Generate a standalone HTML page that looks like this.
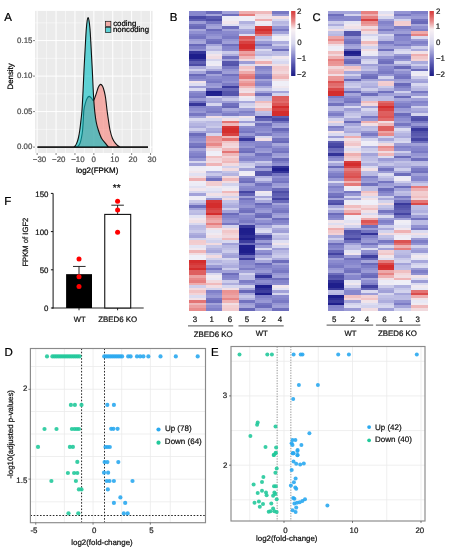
<!DOCTYPE html><html><head><meta charset="utf-8"><style>html,body{margin:0;padding:0;background:#fff;}svg{display:block;}#w{width:451px;height:550px;will-change:transform;}</style></head><body><div id="w"><svg width="451" height="550" viewBox="0 0 451 550" text-rendering="geometricPrecision" font-family='"Liberation Sans", sans-serif'>
<rect width="451" height="550" fill="#fff"/>
<rect x="35" y="10.9" width="117.6" height="142.1" fill="#EBEBEB"/>
<line x1="37.15" y1="10.9" x2="37.15" y2="153" stroke="#fff" stroke-width="1"/>
<line x1="46.60" y1="10.9" x2="46.60" y2="153" stroke="#fff" stroke-width="0.5"/>
<line x1="56.05" y1="10.9" x2="56.05" y2="153" stroke="#fff" stroke-width="1"/>
<line x1="65.50" y1="10.9" x2="65.50" y2="153" stroke="#fff" stroke-width="0.5"/>
<line x1="74.95" y1="10.9" x2="74.95" y2="153" stroke="#fff" stroke-width="1"/>
<line x1="84.40" y1="10.9" x2="84.40" y2="153" stroke="#fff" stroke-width="0.5"/>
<line x1="93.85" y1="10.9" x2="93.85" y2="153" stroke="#fff" stroke-width="1"/>
<line x1="103.30" y1="10.9" x2="103.30" y2="153" stroke="#fff" stroke-width="0.5"/>
<line x1="112.75" y1="10.9" x2="112.75" y2="153" stroke="#fff" stroke-width="1"/>
<line x1="122.20" y1="10.9" x2="122.20" y2="153" stroke="#fff" stroke-width="0.5"/>
<line x1="131.65" y1="10.9" x2="131.65" y2="153" stroke="#fff" stroke-width="1"/>
<line x1="141.10" y1="10.9" x2="141.10" y2="153" stroke="#fff" stroke-width="0.5"/>
<line x1="150.55" y1="10.9" x2="150.55" y2="153" stroke="#fff" stroke-width="1"/>
<line x1="35" y1="147.10" x2="152.6" y2="147.10" stroke="#fff" stroke-width="1"/>
<line x1="35" y1="129.35" x2="152.6" y2="129.35" stroke="#fff" stroke-width="0.5"/>
<line x1="35" y1="111.60" x2="152.6" y2="111.60" stroke="#fff" stroke-width="1"/>
<line x1="35" y1="93.85" x2="152.6" y2="93.85" stroke="#fff" stroke-width="0.5"/>
<line x1="35" y1="76.10" x2="152.6" y2="76.10" stroke="#fff" stroke-width="1"/>
<line x1="35" y1="58.35" x2="152.6" y2="58.35" stroke="#fff" stroke-width="0.5"/>
<line x1="35" y1="40.60" x2="152.6" y2="40.60" stroke="#fff" stroke-width="1"/>
<line x1="35" y1="22.85" x2="152.6" y2="22.85" stroke="#fff" stroke-width="0.5"/>
<path d="M37.50,147.10 C42.92,147.10 63.67,147.13 70.00,147.10 C76.33,147.07 74.20,147.02 75.50,146.90 C76.80,146.78 77.05,147.00 77.80,146.40 C78.55,145.80 79.38,144.78 80.00,143.30 C80.62,141.82 81.07,139.72 81.50,137.50 C81.93,135.28 82.30,132.92 82.60,130.00 C82.90,127.08 83.08,123.33 83.30,120.00 C83.52,116.67 83.57,112.78 83.90,110.00 C84.23,107.22 84.75,105.25 85.30,103.30 C85.85,101.35 86.57,99.45 87.20,98.30 C87.83,97.15 88.42,96.47 89.10,96.40 C89.78,96.33 90.57,97.23 91.30,97.90 C92.03,98.57 92.72,100.98 93.50,100.40 C94.28,99.82 95.20,96.60 96.00,94.40 C96.80,92.20 97.55,88.87 98.30,87.20 C99.05,85.53 99.78,84.55 100.50,84.40 C101.22,84.25 101.97,85.12 102.60,86.30 C103.23,87.48 103.80,89.55 104.30,91.50 C104.80,93.45 105.15,94.92 105.60,98.00 C106.05,101.08 106.53,106.33 107.00,110.00 C107.47,113.67 107.90,116.67 108.40,120.00 C108.90,123.33 109.32,126.92 110.00,130.00 C110.68,133.08 111.58,136.28 112.50,138.50 C113.42,140.72 114.37,141.95 115.50,143.30 C116.63,144.65 117.88,145.97 119.30,146.60 C120.72,147.23 119.22,147.02 124.00,147.10 C128.78,147.18 144.00,147.10 148.00,147.10 Z" fill="#F8766D" fill-opacity="0.55" stroke="#111" stroke-width="1.1"/>
<path d="M37.50,147.10 C42.92,147.10 63.85,147.18 70.00,147.10 C76.15,147.02 73.28,147.23 74.40,146.60 C75.52,145.97 76.02,144.82 76.70,143.30 C77.38,141.78 77.98,139.72 78.50,137.50 C79.02,135.28 79.38,132.92 79.80,130.00 C80.22,127.08 80.63,123.33 81.00,120.00 C81.37,116.67 81.65,115.00 82.00,110.00 C82.35,105.00 82.77,96.67 83.10,90.00 C83.43,83.33 83.72,75.83 84.00,70.00 C84.28,64.17 84.55,59.67 84.80,55.00 C85.05,50.33 85.25,46.33 85.50,42.00 C85.75,37.67 86.02,32.58 86.30,29.00 C86.58,25.42 86.90,22.40 87.20,20.50 C87.50,18.60 87.80,17.60 88.10,17.60 C88.40,17.60 88.68,18.60 89.00,20.50 C89.32,22.40 89.70,25.42 90.00,29.00 C90.30,32.58 90.55,37.67 90.80,42.00 C91.05,46.33 91.25,50.33 91.50,55.00 C91.75,59.67 92.05,65.00 92.30,70.00 C92.55,75.00 92.75,79.93 93.00,85.00 C93.25,90.07 93.50,95.90 93.80,100.40 C94.10,104.90 94.40,108.40 94.80,112.00 C95.20,115.60 95.62,119.00 96.20,122.00 C96.78,125.00 97.42,127.28 98.30,130.00 C99.18,132.72 100.30,136.08 101.50,138.30 C102.70,140.52 104.38,141.95 105.50,143.30 C106.62,144.65 106.95,145.77 108.20,146.40 C109.45,147.03 106.37,146.98 113.00,147.10 C119.63,147.22 142.17,147.10 148.00,147.10 Z" fill="#00BFC4" fill-opacity="0.6" stroke="#111" stroke-width="1.1"/>
<line x1="37.15" y1="153" x2="37.15" y2="155" stroke="#333" stroke-width="0.6"/>
<text x="32.85" y="162.43" font-size="7.90" fill="#4D4D4D" stroke="#4D4D4D" stroke-width="0.22" >−30</text>
<line x1="56.05" y1="153" x2="56.05" y2="155" stroke="#333" stroke-width="0.6"/>
<text x="52.05" y="162.43" font-size="7.90" fill="#4D4D4D" stroke="#4D4D4D" stroke-width="0.22" >−20</text>
<line x1="74.95" y1="153" x2="74.95" y2="155" stroke="#333" stroke-width="0.6"/>
<text x="71.15" y="162.43" font-size="7.90" fill="#4D4D4D" stroke="#4D4D4D" stroke-width="0.22" >−10</text>
<line x1="93.85" y1="153" x2="93.85" y2="155" stroke="#333" stroke-width="0.6"/>
<text x="91.49" y="162.43" font-size="7.90" fill="#4D4D4D" stroke="#4D4D4D" stroke-width="0.22" >0</text>
<line x1="112.75" y1="153" x2="112.75" y2="155" stroke="#333" stroke-width="0.6"/>
<text x="110.26" y="162.43" font-size="7.90" fill="#4D4D4D" stroke="#4D4D4D" stroke-width="0.22" >10</text>
<line x1="131.65" y1="153" x2="131.65" y2="155" stroke="#333" stroke-width="0.6"/>
<text x="128.56" y="162.43" font-size="7.90" fill="#4D4D4D" stroke="#4D4D4D" stroke-width="0.22" >20</text>
<line x1="150.55" y1="153" x2="150.55" y2="155" stroke="#333" stroke-width="0.6"/>
<text x="147.60" y="162.43" font-size="7.90" fill="#4D4D4D" stroke="#4D4D4D" stroke-width="0.22" >30</text>
<line x1="33" y1="147.10" x2="35" y2="147.10" stroke="#333" stroke-width="0.6"/>
<text x="17.01" y="149.23" font-size="7.90" fill="#4D4D4D" stroke="#4D4D4D" stroke-width="0.22" >0.00</text>
<line x1="33" y1="111.60" x2="35" y2="111.60" stroke="#333" stroke-width="0.6"/>
<text x="17.05" y="113.73" font-size="7.90" fill="#4D4D4D" stroke="#4D4D4D" stroke-width="0.22" >0.05</text>
<line x1="33" y1="76.10" x2="35" y2="76.10" stroke="#333" stroke-width="0.6"/>
<text x="17.01" y="78.23" font-size="7.90" fill="#4D4D4D" stroke="#4D4D4D" stroke-width="0.22" >0.10</text>
<line x1="33" y1="40.60" x2="35" y2="40.60" stroke="#333" stroke-width="0.6"/>
<text x="17.05" y="42.73" font-size="7.90" fill="#4D4D4D" stroke="#4D4D4D" stroke-width="0.22" >0.15</text>
<text x="76.04" y="172.80" font-size="7.95" fill="#000" stroke="#000" stroke-width="0.22" >log2(FPKM)</text>
<text x="0" y="0" font-size="7.86" fill="#000" stroke="#000" stroke-width="0.22" transform="translate(12.73,89.53) rotate(-90)">Density</text>
<text x="4.28" y="21.07" font-size="11.50" fill="#000" stroke="#000" stroke-width="0.22" >A</text>
<rect x="105.6" y="21.3" width="5.3" height="5.3" fill="#F8766D" fill-opacity="0.55" stroke="#1a1a1a" stroke-width="0.7"/>
<rect x="105.6" y="27.3" width="5.3" height="5.3" fill="#00BFC4" fill-opacity="0.6" stroke="#1a1a1a" stroke-width="0.7"/>
<text x="113.19" y="26.22" font-size="7.85" fill="#000" stroke="#000" stroke-width="0.22" >coding</text>
<text x="112.99" y="32.41" font-size="7.80" fill="#000" stroke="#000" stroke-width="0.22" >noncoding</text>
<line x1="53.1" y1="193.40" x2="53.1" y2="308.5" stroke="#111" stroke-width="1.0"/>
<line x1="52.2" y1="308" x2="143.7" y2="308" stroke="#111" stroke-width="0.9"/>
<line x1="50.9" y1="308.00" x2="53.1" y2="308.00" stroke="#111" stroke-width="1.0"/>
<text x="44.09" y="311.28" font-size="7.90" fill="#111" stroke="#111" stroke-width="0.22" >0</text>
<line x1="50.9" y1="269.80" x2="53.1" y2="269.80" stroke="#111" stroke-width="1.0"/>
<text x="39.71" y="273.08" font-size="7.90" fill="#111" stroke="#111" stroke-width="0.22" >50</text>
<line x1="50.9" y1="231.60" x2="53.1" y2="231.60" stroke="#111" stroke-width="1.0"/>
<text x="35.32" y="234.88" font-size="7.90" fill="#111" stroke="#111" stroke-width="0.22" >100</text>
<line x1="50.9" y1="193.40" x2="53.1" y2="193.40" stroke="#111" stroke-width="1.0"/>
<text x="35.32" y="196.68" font-size="7.90" fill="#111" stroke="#111" stroke-width="0.22" >150</text>
<line x1="79" y1="308" x2="79" y2="310.3" stroke="#111" stroke-width="0.9"/>
<line x1="117.6" y1="308" x2="117.6" y2="310.3" stroke="#111" stroke-width="0.9"/>
<rect x="66.1" y="274.15" width="25.9" height="33.85" fill="#000"/>
<rect x="104.75" y="214.41" width="25.95" height="93.59" fill="#fff" stroke="#111" stroke-width="1.1"/>
<line x1="79" y1="266.44" x2="79" y2="274.15" stroke="#111" stroke-width="0.9"/>
<line x1="73" y1="266.44" x2="85.6" y2="266.44" stroke="#111" stroke-width="0.9"/>
<line x1="117.6" y1="205.20" x2="117.6" y2="214.50" stroke="#111" stroke-width="0.9"/>
<line x1="111.3" y1="205.2" x2="123.9" y2="205.2" stroke="#111" stroke-width="0.9"/>
<circle cx="79" cy="259" r="2.5" fill="#F00"/>
<circle cx="79" cy="276.8" r="2.5" fill="#F00"/>
<circle cx="79" cy="286.6" r="2.5" fill="#F00"/>
<circle cx="117.6" cy="201.3" r="2.5" fill="#F00"/>
<circle cx="117.6" cy="210" r="2.5" fill="#F00"/>
<circle cx="117.6" cy="232.3" r="2.5" fill="#F00"/>
<text x="112.85" y="191.20" font-size="10.00" fill="#111" stroke="#111" stroke-width="0.22" >**</text>
<text x="73.75" y="321.77" font-size="7.60" fill="#111" stroke="#111" stroke-width="0.22" >WT</text>
<text x="98.18" y="321.88" font-size="7.90" fill="#111" stroke="#111" stroke-width="0.22" >ZBED6 KO</text>
<text x="0" y="0" font-size="7.67" fill="#111" stroke="#111" stroke-width="0.22" transform="translate(27.54,266.61) rotate(-90)">FPKM of IGF2</text>
<text x="4.26" y="205.47" font-size="11.50" fill="#000" stroke="#000" stroke-width="0.22" >F</text>
<g shape-rendering="crispEdges">
<rect x="189.00" y="11.30" width="17.20" height="3.09" fill="#8787cd"/>
<rect x="189.00" y="13.79" width="17.20" height="3.09" fill="#8787cd"/>
<rect x="189.00" y="16.28" width="17.20" height="3.09" fill="#4949a5"/>
<rect x="189.00" y="18.77" width="17.20" height="3.09" fill="#5f5fb3"/>
<rect x="189.00" y="21.26" width="17.20" height="3.09" fill="#9d9dd7"/>
<rect x="189.00" y="23.75" width="17.20" height="3.09" fill="#7272bf"/>
<rect x="189.00" y="26.23" width="17.20" height="3.09" fill="#6868b8"/>
<rect x="189.00" y="28.72" width="17.20" height="3.09" fill="#a8a8db"/>
<rect x="189.00" y="31.21" width="17.20" height="3.09" fill="#9191d2"/>
<rect x="189.00" y="33.70" width="17.20" height="3.09" fill="#7d7dc6"/>
<rect x="189.00" y="36.19" width="17.20" height="3.09" fill="#7373c0"/>
<rect x="189.00" y="38.68" width="17.20" height="3.09" fill="#9d9dd6"/>
<rect x="189.00" y="41.17" width="17.20" height="3.09" fill="#a8a8db"/>
<rect x="189.00" y="43.66" width="17.20" height="3.09" fill="#6868b9"/>
<rect x="189.00" y="46.15" width="17.20" height="3.09" fill="#7e7ec7"/>
<rect x="189.00" y="48.64" width="17.20" height="3.09" fill="#9191d1"/>
<rect x="189.00" y="51.13" width="17.20" height="3.09" fill="#343499"/>
<rect x="189.00" y="53.62" width="17.20" height="3.09" fill="#1e1e8c"/>
<rect x="189.00" y="56.11" width="17.20" height="3.09" fill="#1e1e8c"/>
<rect x="189.00" y="58.59" width="17.20" height="3.09" fill="#3f3f9f"/>
<rect x="189.00" y="61.08" width="17.20" height="3.09" fill="#5e5eb2"/>
<rect x="189.00" y="63.57" width="17.20" height="3.09" fill="#4b4ba6"/>
<rect x="189.00" y="66.06" width="17.20" height="3.09" fill="#a8a8db"/>
<rect x="189.00" y="68.55" width="17.20" height="3.09" fill="#d0d0ec"/>
<rect x="189.00" y="71.04" width="17.20" height="3.09" fill="#a6a6db"/>
<rect x="189.00" y="73.53" width="17.20" height="3.09" fill="#6969b9"/>
<rect x="189.00" y="76.02" width="17.20" height="3.09" fill="#7f7fc8"/>
<rect x="189.00" y="78.51" width="17.20" height="3.09" fill="#9090d1"/>
<rect x="189.00" y="81.00" width="17.20" height="3.09" fill="#f1e3e9"/>
<rect x="189.00" y="83.49" width="17.20" height="3.09" fill="#ddddf1"/>
<rect x="189.00" y="85.97" width="17.20" height="3.09" fill="#9d9dd7"/>
<rect x="189.00" y="88.46" width="17.20" height="3.09" fill="#dadaf0"/>
<rect x="189.00" y="90.95" width="17.20" height="3.09" fill="#8f8fd0"/>
<rect x="189.00" y="93.44" width="17.20" height="3.09" fill="#8080c8"/>
<rect x="189.00" y="95.93" width="17.20" height="3.09" fill="#7575c1"/>
<rect x="189.00" y="98.42" width="17.20" height="3.09" fill="#9a9ad5"/>
<rect x="189.00" y="100.91" width="17.20" height="3.09" fill="#7171bf"/>
<rect x="189.00" y="103.40" width="17.20" height="3.09" fill="#36369a"/>
<rect x="189.00" y="105.89" width="17.20" height="3.09" fill="#8080c9"/>
<rect x="189.00" y="108.38" width="17.20" height="3.09" fill="#8e8ed0"/>
<rect x="189.00" y="110.87" width="17.20" height="3.09" fill="#9999d5"/>
<rect x="189.00" y="113.36" width="17.20" height="3.09" fill="#7676c2"/>
<rect x="189.00" y="115.84" width="17.20" height="3.09" fill="#9f9fd7"/>
<rect x="189.00" y="118.33" width="17.20" height="3.09" fill="#d9d9ef"/>
<rect x="189.00" y="120.82" width="17.20" height="3.09" fill="#c2c2e6"/>
<rect x="189.00" y="123.31" width="17.20" height="3.09" fill="#b5b5e1"/>
<rect x="189.00" y="125.80" width="17.20" height="3.09" fill="#aaaadc"/>
<rect x="189.00" y="128.29" width="17.20" height="3.09" fill="#cdcdeb"/>
<rect x="189.00" y="130.78" width="17.20" height="3.09" fill="#a4a4d9"/>
<rect x="189.00" y="133.27" width="17.20" height="3.09" fill="#6c6cbb"/>
<rect x="189.00" y="135.76" width="17.20" height="3.09" fill="#8181c9"/>
<rect x="189.00" y="138.25" width="17.20" height="3.09" fill="#8d8dd0"/>
<rect x="189.00" y="140.74" width="17.20" height="3.09" fill="#9898d4"/>
<rect x="189.00" y="143.23" width="17.20" height="3.09" fill="#7777c2"/>
<rect x="189.00" y="145.72" width="17.20" height="3.09" fill="#6c6cbb"/>
<rect x="189.00" y="148.20" width="17.20" height="3.09" fill="#a3a3d9"/>
<rect x="189.00" y="150.69" width="17.20" height="3.09" fill="#8c8ccf"/>
<rect x="189.00" y="153.18" width="17.20" height="3.09" fill="#8282ca"/>
<rect x="189.00" y="155.67" width="17.20" height="3.09" fill="#7878c3"/>
<rect x="189.00" y="158.16" width="17.20" height="3.09" fill="#9797d4"/>
<rect x="189.00" y="160.65" width="17.20" height="3.09" fill="#d7d7ee"/>
<rect x="189.00" y="163.14" width="17.20" height="3.09" fill="#a1a1d8"/>
<rect x="189.00" y="165.63" width="17.20" height="3.09" fill="#ebebf6"/>
<rect x="189.00" y="168.12" width="17.20" height="3.09" fill="#f0edf4"/>
<rect x="189.00" y="170.61" width="17.20" height="3.09" fill="#f1e6ec"/>
<rect x="189.00" y="173.10" width="17.20" height="3.09" fill="#e1e1f2"/>
<rect x="189.00" y="175.59" width="17.20" height="3.09" fill="#f1dfe4"/>
<rect x="189.00" y="178.07" width="17.20" height="3.09" fill="#eeb1b3"/>
<rect x="189.00" y="180.56" width="17.20" height="3.09" fill="#f0edf5"/>
<rect x="189.00" y="183.05" width="17.20" height="3.09" fill="#ececf6"/>
<rect x="189.00" y="185.54" width="17.20" height="3.09" fill="#e1e1f2"/>
<rect x="189.00" y="188.03" width="17.20" height="3.09" fill="#f1e6ed"/>
<rect x="189.00" y="190.52" width="17.20" height="3.09" fill="#d6d6ee"/>
<rect x="189.00" y="193.01" width="17.20" height="3.09" fill="#a2a2d9"/>
<rect x="189.00" y="195.50" width="17.20" height="3.09" fill="#ededf7"/>
<rect x="189.00" y="197.99" width="17.20" height="3.09" fill="#f0eef5"/>
<rect x="189.00" y="200.48" width="17.20" height="3.09" fill="#cacae9"/>
<rect x="189.00" y="202.97" width="17.20" height="3.09" fill="#aeaede"/>
<rect x="189.00" y="205.46" width="17.20" height="3.09" fill="#6f6fbd"/>
<rect x="189.00" y="207.94" width="17.20" height="3.09" fill="#a1a1d8"/>
<rect x="189.00" y="210.43" width="17.20" height="3.09" fill="#bfbfe5"/>
<rect x="189.00" y="212.92" width="17.20" height="3.09" fill="#b9b9e3"/>
<rect x="189.00" y="215.41" width="17.20" height="3.09" fill="#e2e2f3"/>
<rect x="189.00" y="217.90" width="17.20" height="3.09" fill="#f1e7ee"/>
<rect x="189.00" y="220.39" width="17.20" height="3.09" fill="#f1e0e5"/>
<rect x="189.00" y="222.88" width="17.20" height="3.09" fill="#d8d8ef"/>
<rect x="189.00" y="225.37" width="17.20" height="3.09" fill="#babae3"/>
<rect x="189.00" y="227.86" width="17.20" height="3.09" fill="#bebee5"/>
<rect x="189.00" y="230.35" width="17.20" height="3.09" fill="#c9c9e9"/>
<rect x="189.00" y="232.84" width="17.20" height="3.09" fill="#afafde"/>
<rect x="189.00" y="235.33" width="17.20" height="3.09" fill="#a4a4d9"/>
<rect x="189.00" y="237.81" width="17.20" height="3.09" fill="#d4d4ed"/>
<rect x="189.00" y="240.30" width="17.20" height="3.09" fill="#f2ccce"/>
<rect x="189.00" y="242.79" width="17.20" height="3.09" fill="#f2ced1"/>
<rect x="189.00" y="245.28" width="17.20" height="3.09" fill="#e4e4f3"/>
<rect x="189.00" y="247.77" width="17.20" height="3.09" fill="#f0e8ef"/>
<rect x="189.00" y="250.26" width="17.20" height="3.09" fill="#efb5b6"/>
<rect x="189.00" y="252.75" width="17.20" height="3.09" fill="#f1dde2"/>
<rect x="189.00" y="255.24" width="17.20" height="3.09" fill="#efeff8"/>
<rect x="189.00" y="257.73" width="17.20" height="3.09" fill="#f0eff7"/>
<rect x="189.00" y="260.22" width="17.20" height="3.09" fill="#d42d2d"/>
<rect x="189.00" y="262.71" width="17.20" height="3.09" fill="#d63838"/>
<rect x="189.00" y="265.19" width="17.20" height="3.09" fill="#d84343"/>
<rect x="189.00" y="267.68" width="17.20" height="3.09" fill="#d42d2d"/>
<rect x="189.00" y="270.17" width="17.20" height="3.09" fill="#de5f5f"/>
<rect x="189.00" y="272.66" width="17.20" height="3.09" fill="#de5f5f"/>
<rect x="189.00" y="275.15" width="17.20" height="3.09" fill="#eca2a2"/>
<rect x="189.00" y="277.64" width="17.20" height="3.09" fill="#e88a8a"/>
<rect x="189.00" y="280.13" width="17.20" height="3.09" fill="#e67f7f"/>
<rect x="189.00" y="282.62" width="17.20" height="3.09" fill="#eeadae"/>
<rect x="189.00" y="285.11" width="17.20" height="3.09" fill="#cfcfeb"/>
<rect x="189.00" y="287.60" width="17.20" height="3.09" fill="#f1dadf"/>
<rect x="189.00" y="290.09" width="17.20" height="3.09" fill="#f1c2c4"/>
<rect x="189.00" y="292.58" width="17.20" height="3.09" fill="#f2d4d8"/>
<rect x="189.00" y="295.06" width="17.20" height="3.09" fill="#dbdbf0"/>
<rect x="189.00" y="297.55" width="17.20" height="3.09" fill="#f1e2e8"/>
<rect x="189.00" y="300.04" width="17.20" height="3.09" fill="#e37474"/>
<rect x="189.00" y="302.53" width="17.20" height="3.09" fill="#efb8ba"/>
<rect x="189.00" y="305.02" width="17.20" height="3.09" fill="#eca0a1"/>
<rect x="189.00" y="307.51" width="17.20" height="3.09" fill="#e98c8c"/>
<rect x="205.60" y="11.30" width="17.20" height="3.09" fill="#6a6aba"/>
<rect x="205.60" y="13.79" width="17.20" height="3.09" fill="#a5a5da"/>
<rect x="205.60" y="16.28" width="17.20" height="3.09" fill="#5c5cb1"/>
<rect x="205.60" y="18.77" width="17.20" height="3.09" fill="#4d4da7"/>
<rect x="205.60" y="21.26" width="17.20" height="3.09" fill="#7575c1"/>
<rect x="205.60" y="23.75" width="17.20" height="3.09" fill="#9a9ad5"/>
<rect x="205.60" y="26.23" width="17.20" height="3.09" fill="#a5a5da"/>
<rect x="205.60" y="28.72" width="17.20" height="3.09" fill="#6b6bbb"/>
<rect x="205.60" y="31.21" width="17.20" height="3.09" fill="#8181c9"/>
<rect x="205.60" y="33.70" width="17.20" height="3.09" fill="#8e8ed0"/>
<rect x="205.60" y="36.19" width="17.20" height="3.09" fill="#9999d5"/>
<rect x="205.60" y="38.68" width="17.20" height="3.09" fill="#7676c2"/>
<rect x="205.60" y="41.17" width="17.20" height="3.09" fill="#6c6cbb"/>
<rect x="205.60" y="43.66" width="17.20" height="3.09" fill="#a4a4da"/>
<rect x="205.60" y="46.15" width="17.20" height="3.09" fill="#c2c2e6"/>
<rect x="205.60" y="48.64" width="17.20" height="3.09" fill="#b6b6e1"/>
<rect x="205.60" y="51.13" width="17.20" height="3.09" fill="#dfdff1"/>
<rect x="205.60" y="53.62" width="17.20" height="3.09" fill="#f1e5eb"/>
<rect x="205.60" y="56.11" width="17.20" height="3.09" fill="#f1dde3"/>
<rect x="205.60" y="58.59" width="17.20" height="3.09" fill="#d4d4ed"/>
<rect x="205.60" y="61.08" width="17.20" height="3.09" fill="#ebebf6"/>
<rect x="205.60" y="63.57" width="17.20" height="3.09" fill="#f0ecf4"/>
<rect x="205.60" y="66.06" width="17.20" height="3.09" fill="#ccccea"/>
<rect x="205.60" y="68.55" width="17.20" height="3.09" fill="#ababdd"/>
<rect x="205.60" y="71.04" width="17.20" height="3.09" fill="#6d6dbc"/>
<rect x="205.60" y="73.53" width="17.20" height="3.09" fill="#a3a3d9"/>
<rect x="205.60" y="76.02" width="17.20" height="3.09" fill="#8c8ccf"/>
<rect x="205.60" y="78.51" width="17.20" height="3.09" fill="#8282ca"/>
<rect x="205.60" y="81.00" width="17.20" height="3.09" fill="#7878c3"/>
<rect x="205.60" y="83.49" width="17.20" height="3.09" fill="#9797d4"/>
<rect x="205.60" y="85.97" width="17.20" height="3.09" fill="#a2a2d9"/>
<rect x="205.60" y="88.46" width="17.20" height="3.09" fill="#6d6dbc"/>
<rect x="205.60" y="90.95" width="17.20" height="3.09" fill="#1e1e8c"/>
<rect x="205.60" y="93.44" width="17.20" height="3.09" fill="#22228f"/>
<rect x="205.60" y="95.93" width="17.20" height="3.09" fill="#cbcbea"/>
<rect x="205.60" y="98.42" width="17.20" height="3.09" fill="#adaddd"/>
<rect x="205.60" y="100.91" width="17.20" height="3.09" fill="#a2a2d9"/>
<rect x="205.60" y="103.40" width="17.20" height="3.09" fill="#d6d6ee"/>
<rect x="205.60" y="105.89" width="17.20" height="3.09" fill="#8b8bcf"/>
<rect x="205.60" y="108.38" width="17.20" height="3.09" fill="#8484cb"/>
<rect x="205.60" y="110.87" width="17.20" height="3.09" fill="#7979c4"/>
<rect x="205.60" y="113.36" width="17.20" height="3.09" fill="#9696d3"/>
<rect x="205.60" y="115.84" width="17.20" height="3.09" fill="#f1dfe5"/>
<rect x="205.60" y="118.33" width="17.20" height="3.09" fill="#d7d7ee"/>
<rect x="205.60" y="120.82" width="17.20" height="3.09" fill="#b9b9e3"/>
<rect x="205.60" y="123.31" width="17.20" height="3.09" fill="#bfbfe5"/>
<rect x="205.60" y="125.80" width="17.20" height="3.09" fill="#cacae9"/>
<rect x="205.60" y="128.29" width="17.20" height="3.09" fill="#aeaede"/>
<rect x="205.60" y="130.78" width="17.20" height="3.09" fill="#a3a3d9"/>
<rect x="205.60" y="133.27" width="17.20" height="3.09" fill="#d5d5ed"/>
<rect x="205.60" y="135.76" width="17.20" height="3.09" fill="#ea9494"/>
<rect x="205.60" y="138.25" width="17.20" height="3.09" fill="#eb9899"/>
<rect x="205.60" y="140.74" width="17.20" height="3.09" fill="#eda4a5"/>
<rect x="205.60" y="143.23" width="17.20" height="3.09" fill="#e88888"/>
<rect x="205.60" y="145.72" width="17.20" height="3.09" fill="#efb4b5"/>
<rect x="205.60" y="148.20" width="17.20" height="3.09" fill="#f1dde2"/>
<rect x="205.60" y="150.69" width="17.20" height="3.09" fill="#eeeef7"/>
<rect x="205.60" y="153.18" width="17.20" height="3.09" fill="#f0eff7"/>
<rect x="205.60" y="155.67" width="17.20" height="3.09" fill="#f0c0c2"/>
<rect x="205.60" y="158.16" width="17.20" height="3.09" fill="#f2d5da"/>
<rect x="205.60" y="160.65" width="17.20" height="3.09" fill="#f1dde2"/>
<rect x="205.60" y="163.14" width="17.20" height="3.09" fill="#efb4b6"/>
<rect x="205.60" y="165.63" width="17.20" height="3.09" fill="#f0eff7"/>
<rect x="205.60" y="168.12" width="17.20" height="3.09" fill="#efeff8"/>
<rect x="205.60" y="170.61" width="17.20" height="3.09" fill="#b0b0df"/>
<rect x="205.60" y="173.10" width="17.20" height="3.09" fill="#c8c8e9"/>
<rect x="205.60" y="175.59" width="17.20" height="3.09" fill="#9e9ed7"/>
<rect x="205.60" y="178.07" width="17.20" height="3.09" fill="#7171bf"/>
<rect x="205.60" y="180.56" width="17.20" height="3.09" fill="#f2cdd0"/>
<rect x="205.60" y="183.05" width="17.20" height="3.09" fill="#f2cdd0"/>
<rect x="205.60" y="185.54" width="17.20" height="3.09" fill="#f0e8ef"/>
<rect x="205.60" y="188.03" width="17.20" height="3.09" fill="#e5e5f4"/>
<rect x="205.60" y="190.52" width="17.20" height="3.09" fill="#dadaef"/>
<rect x="205.60" y="193.01" width="17.20" height="3.09" fill="#f1e1e7"/>
<rect x="205.60" y="195.50" width="17.20" height="3.09" fill="#ddddf1"/>
<rect x="205.60" y="197.99" width="17.20" height="3.09" fill="#9a9ad5"/>
<rect x="205.60" y="200.48" width="17.20" height="3.09" fill="#d63737"/>
<rect x="205.60" y="202.97" width="17.20" height="3.09" fill="#d42d2d"/>
<rect x="205.60" y="205.46" width="17.20" height="3.09" fill="#d42d2d"/>
<rect x="205.60" y="207.94" width="17.20" height="3.09" fill="#d84242"/>
<rect x="205.60" y="210.43" width="17.20" height="3.09" fill="#da4c4c"/>
<rect x="205.60" y="212.92" width="17.20" height="3.09" fill="#d42d2d"/>
<rect x="205.60" y="215.41" width="17.20" height="3.09" fill="#e98b8b"/>
<rect x="205.60" y="217.90" width="17.20" height="3.09" fill="#eca1a1"/>
<rect x="205.60" y="220.39" width="17.20" height="3.09" fill="#eeacad"/>
<rect x="205.60" y="222.88" width="17.20" height="3.09" fill="#e68080"/>
<rect x="205.60" y="225.37" width="17.20" height="3.09" fill="#eeabad"/>
<rect x="205.60" y="227.86" width="17.20" height="3.09" fill="#f1e2e8"/>
<rect x="205.60" y="230.35" width="17.20" height="3.09" fill="#e7e7f4"/>
<rect x="205.60" y="232.84" width="17.20" height="3.09" fill="#f0eaf1"/>
<rect x="205.60" y="235.33" width="17.20" height="3.09" fill="#f1e2e8"/>
<rect x="205.60" y="237.81" width="17.20" height="3.09" fill="#dcdcf0"/>
<rect x="205.60" y="240.30" width="17.20" height="3.09" fill="#d1d1ec"/>
<rect x="205.60" y="242.79" width="17.20" height="3.09" fill="#f1dbe0"/>
<rect x="205.60" y="245.28" width="17.20" height="3.09" fill="#c5c5e7"/>
<rect x="205.60" y="247.77" width="17.20" height="3.09" fill="#b3b3e0"/>
<rect x="205.60" y="250.26" width="17.20" height="3.09" fill="#a8a8db"/>
<rect x="205.60" y="252.75" width="17.20" height="3.09" fill="#d0d0ec"/>
<rect x="205.60" y="255.24" width="17.20" height="3.09" fill="#f1dbe1"/>
<rect x="205.60" y="257.73" width="17.20" height="3.09" fill="#d2d2ec"/>
<rect x="205.60" y="260.22" width="17.20" height="3.09" fill="#b4b4e0"/>
<rect x="205.60" y="262.71" width="17.20" height="3.09" fill="#c4c4e7"/>
<rect x="205.60" y="265.19" width="17.20" height="3.09" fill="#9a9ad5"/>
<rect x="205.60" y="267.68" width="17.20" height="3.09" fill="#7575c1"/>
<rect x="205.60" y="270.17" width="17.20" height="3.09" fill="#9e9ed7"/>
<rect x="205.60" y="272.66" width="17.20" height="3.09" fill="#dadaef"/>
<rect x="205.60" y="275.15" width="17.20" height="3.09" fill="#f0ebf2"/>
<rect x="205.60" y="277.64" width="17.20" height="3.09" fill="#e9e9f5"/>
<rect x="205.60" y="280.13" width="17.20" height="3.09" fill="#f1d9de"/>
<rect x="205.60" y="282.62" width="17.20" height="3.09" fill="#f0babc"/>
<rect x="205.60" y="285.11" width="17.20" height="3.09" fill="#f1dce2"/>
<rect x="205.60" y="287.60" width="17.20" height="3.09" fill="#d3d3ed"/>
<rect x="205.60" y="290.09" width="17.20" height="3.09" fill="#8080c9"/>
<rect x="205.60" y="292.58" width="17.20" height="3.09" fill="#8e8ed0"/>
<rect x="205.60" y="295.06" width="17.20" height="3.09" fill="#9999d5"/>
<rect x="205.60" y="297.55" width="17.20" height="3.09" fill="#7676c2"/>
<rect x="205.60" y="300.04" width="17.20" height="3.09" fill="#6c6cbb"/>
<rect x="205.60" y="302.53" width="17.20" height="3.09" fill="#a4a4da"/>
<rect x="205.60" y="305.02" width="17.20" height="3.09" fill="#8d8dd0"/>
<rect x="205.60" y="307.51" width="17.20" height="3.09" fill="#8181c9"/>
<rect x="222.20" y="11.30" width="17.20" height="3.09" fill="#a2a2d9"/>
<rect x="222.20" y="13.79" width="17.20" height="3.09" fill="#6e6ebc"/>
<rect x="222.20" y="16.28" width="17.20" height="3.09" fill="#ececf7"/>
<rect x="222.20" y="18.77" width="17.20" height="3.09" fill="#f0edf5"/>
<rect x="222.20" y="21.26" width="17.20" height="3.09" fill="#f1e6ed"/>
<rect x="222.20" y="23.75" width="17.20" height="3.09" fill="#e1e1f2"/>
<rect x="222.20" y="26.23" width="17.20" height="3.09" fill="#6e6ebd"/>
<rect x="222.20" y="28.72" width="17.20" height="3.09" fill="#a1a1d8"/>
<rect x="222.20" y="31.21" width="17.20" height="3.09" fill="#8a8ace"/>
<rect x="222.20" y="33.70" width="17.20" height="3.09" fill="#8484cb"/>
<rect x="222.20" y="36.19" width="17.20" height="3.09" fill="#7a7ac4"/>
<rect x="222.20" y="38.68" width="17.20" height="3.09" fill="#9595d3"/>
<rect x="222.20" y="41.17" width="17.20" height="3.09" fill="#a0a0d8"/>
<rect x="222.20" y="43.66" width="17.20" height="3.09" fill="#6f6fbd"/>
<rect x="222.20" y="46.15" width="17.20" height="3.09" fill="#8585cb"/>
<rect x="222.20" y="48.64" width="17.20" height="3.09" fill="#8a8ace"/>
<rect x="222.20" y="51.13" width="17.20" height="3.09" fill="#c9c9e9"/>
<rect x="222.20" y="53.62" width="17.20" height="3.09" fill="#aeaede"/>
<rect x="222.20" y="56.11" width="17.20" height="3.09" fill="#7070be"/>
<rect x="222.20" y="58.59" width="17.20" height="3.09" fill="#a0a0d8"/>
<rect x="222.20" y="61.08" width="17.20" height="3.09" fill="#5757ad"/>
<rect x="222.20" y="63.57" width="17.20" height="3.09" fill="#5353ab"/>
<rect x="222.20" y="66.06" width="17.20" height="3.09" fill="#7b7bc5"/>
<rect x="222.20" y="68.55" width="17.20" height="3.09" fill="#9494d3"/>
<rect x="222.20" y="71.04" width="17.20" height="3.09" fill="#9f9fd7"/>
<rect x="222.20" y="73.53" width="17.20" height="3.09" fill="#7070be"/>
<rect x="222.20" y="76.02" width="17.20" height="3.09" fill="#8686cc"/>
<rect x="222.20" y="78.51" width="17.20" height="3.09" fill="#8888ce"/>
<rect x="222.20" y="81.00" width="17.20" height="3.09" fill="#9393d2"/>
<rect x="222.20" y="83.49" width="17.20" height="3.09" fill="#7b7bc5"/>
<rect x="222.20" y="85.97" width="17.20" height="3.09" fill="#3d3d9e"/>
<rect x="222.20" y="88.46" width="17.20" height="3.09" fill="#6b6bbb"/>
<rect x="222.20" y="90.95" width="17.20" height="3.09" fill="#5656ac"/>
<rect x="222.20" y="93.44" width="17.20" height="3.09" fill="#5454ac"/>
<rect x="222.20" y="95.93" width="17.20" height="3.09" fill="#b0b0df"/>
<rect x="222.20" y="98.42" width="17.20" height="3.09" fill="#c7c7e8"/>
<rect x="222.20" y="100.91" width="17.20" height="3.09" fill="#9e9ed7"/>
<rect x="222.20" y="103.40" width="17.20" height="3.09" fill="#7171bf"/>
<rect x="222.20" y="105.89" width="17.20" height="3.09" fill="#6767b8"/>
<rect x="222.20" y="108.38" width="17.20" height="3.09" fill="#a9a9dc"/>
<rect x="222.20" y="110.87" width="17.20" height="3.09" fill="#9292d2"/>
<rect x="222.20" y="113.36" width="17.20" height="3.09" fill="#7d7dc6"/>
<rect x="222.20" y="115.84" width="17.20" height="3.09" fill="#dadaf0"/>
<rect x="222.20" y="118.33" width="17.20" height="3.09" fill="#f1e1e7"/>
<rect x="222.20" y="120.82" width="17.20" height="3.09" fill="#e37474"/>
<rect x="222.20" y="123.31" width="17.20" height="3.09" fill="#efb8ba"/>
<rect x="222.20" y="125.80" width="17.20" height="3.09" fill="#d63737"/>
<rect x="222.20" y="128.29" width="17.20" height="3.09" fill="#d42d2d"/>
<rect x="222.20" y="130.78" width="17.20" height="3.09" fill="#d42d2d"/>
<rect x="222.20" y="133.27" width="17.20" height="3.09" fill="#d84141"/>
<rect x="222.20" y="135.76" width="17.20" height="3.09" fill="#efb8ba"/>
<rect x="222.20" y="138.25" width="17.20" height="3.09" fill="#e37474"/>
<rect x="222.20" y="140.74" width="17.20" height="3.09" fill="#f1c3c5"/>
<rect x="222.20" y="143.23" width="17.20" height="3.09" fill="#f2d3d7"/>
<rect x="222.20" y="145.72" width="17.20" height="3.09" fill="#f1dbe0"/>
<rect x="222.20" y="148.20" width="17.20" height="3.09" fill="#efb7b9"/>
<rect x="222.20" y="150.69" width="17.20" height="3.09" fill="#e37575"/>
<rect x="222.20" y="153.18" width="17.20" height="3.09" fill="#efb7b9"/>
<rect x="222.20" y="155.67" width="17.20" height="3.09" fill="#f2d3d7"/>
<rect x="222.20" y="158.16" width="17.20" height="3.09" fill="#f1c4c6"/>
<rect x="222.20" y="160.65" width="17.20" height="3.09" fill="#efb8ba"/>
<rect x="222.20" y="163.14" width="17.20" height="3.09" fill="#f1dadf"/>
<rect x="222.20" y="165.63" width="17.20" height="3.09" fill="#d1d1ec"/>
<rect x="222.20" y="168.12" width="17.20" height="3.09" fill="#f1dbe0"/>
<rect x="222.20" y="170.61" width="17.20" height="3.09" fill="#c4c4e7"/>
<rect x="222.20" y="173.10" width="17.20" height="3.09" fill="#b4b4e0"/>
<rect x="222.20" y="175.59" width="17.20" height="3.09" fill="#f1dadf"/>
<rect x="222.20" y="178.07" width="17.20" height="3.09" fill="#efb9bb"/>
<rect x="222.20" y="180.56" width="17.20" height="3.09" fill="#f1dce1"/>
<rect x="222.20" y="183.05" width="17.20" height="3.09" fill="#d2d2ec"/>
<rect x="222.20" y="185.54" width="17.20" height="3.09" fill="#e8e8f5"/>
<rect x="222.20" y="188.03" width="17.20" height="3.09" fill="#f0ebf2"/>
<rect x="222.20" y="190.52" width="17.20" height="3.09" fill="#f0b9bb"/>
<rect x="222.20" y="193.01" width="17.20" height="3.09" fill="#f1d9de"/>
<rect x="222.20" y="195.50" width="17.20" height="3.09" fill="#d3d3ed"/>
<rect x="222.20" y="197.99" width="17.20" height="3.09" fill="#f1dce1"/>
<rect x="222.20" y="200.48" width="17.20" height="3.09" fill="#c3c3e7"/>
<rect x="222.20" y="202.97" width="17.20" height="3.09" fill="#b5b5e1"/>
<rect x="222.20" y="205.46" width="17.20" height="3.09" fill="#aaaadc"/>
<rect x="222.20" y="207.94" width="17.20" height="3.09" fill="#ceceeb"/>
<rect x="222.20" y="210.43" width="17.20" height="3.09" fill="#a4a4da"/>
<rect x="222.20" y="212.92" width="17.20" height="3.09" fill="#6b6bbb"/>
<rect x="222.20" y="215.41" width="17.20" height="3.09" fill="#8181c9"/>
<rect x="222.20" y="217.90" width="17.20" height="3.09" fill="#8e8ed0"/>
<rect x="222.20" y="220.39" width="17.20" height="3.09" fill="#9999d5"/>
<rect x="222.20" y="222.88" width="17.20" height="3.09" fill="#7676c2"/>
<rect x="222.20" y="225.37" width="17.20" height="3.09" fill="#d4d4ed"/>
<rect x="222.20" y="227.86" width="17.20" height="3.09" fill="#f1dde2"/>
<rect x="222.20" y="230.35" width="17.20" height="3.09" fill="#f1c7ca"/>
<rect x="222.20" y="232.84" width="17.20" height="3.09" fill="#f2d1d4"/>
<rect x="222.20" y="235.33" width="17.20" height="3.09" fill="#f1d8dd"/>
<rect x="222.20" y="237.81" width="17.20" height="3.09" fill="#f0bbbd"/>
<rect x="222.20" y="240.30" width="17.20" height="3.09" fill="#d8d8ef"/>
<rect x="222.20" y="242.79" width="17.20" height="3.09" fill="#a0a0d8"/>
<rect x="222.20" y="245.28" width="17.20" height="3.09" fill="#b7b7e2"/>
<rect x="222.20" y="247.77" width="17.20" height="3.09" fill="#c1c1e6"/>
<rect x="222.20" y="250.26" width="17.20" height="3.09" fill="#ccccea"/>
<rect x="222.20" y="252.75" width="17.20" height="3.09" fill="#acacdd"/>
<rect x="222.20" y="255.24" width="17.20" height="3.09" fill="#a1a1d8"/>
<rect x="222.20" y="257.73" width="17.20" height="3.09" fill="#d7d7ee"/>
<rect x="222.20" y="260.22" width="17.20" height="3.09" fill="#c1c1e6"/>
<rect x="222.20" y="262.71" width="17.20" height="3.09" fill="#b7b7e2"/>
<rect x="222.20" y="265.19" width="17.20" height="3.09" fill="#acacdd"/>
<rect x="222.20" y="267.68" width="17.20" height="3.09" fill="#cbcbea"/>
<rect x="222.20" y="270.17" width="17.20" height="3.09" fill="#a2a2d9"/>
<rect x="222.20" y="272.66" width="17.20" height="3.09" fill="#6e6ebc"/>
<rect x="222.20" y="275.15" width="17.20" height="3.09" fill="#8383cb"/>
<rect x="222.20" y="277.64" width="17.20" height="3.09" fill="#8b8bcf"/>
<rect x="222.20" y="280.13" width="17.20" height="3.09" fill="#cbcbea"/>
<rect x="222.20" y="282.62" width="17.20" height="3.09" fill="#adaddd"/>
<rect x="222.20" y="285.11" width="17.20" height="3.09" fill="#d6d6ee"/>
<rect x="222.20" y="287.60" width="17.20" height="3.09" fill="#f1dfe4"/>
<rect x="222.20" y="290.09" width="17.20" height="3.09" fill="#ea9393"/>
<rect x="222.20" y="292.58" width="17.20" height="3.09" fill="#eb999a"/>
<rect x="222.20" y="295.06" width="17.20" height="3.09" fill="#eda5a6"/>
<rect x="222.20" y="297.55" width="17.20" height="3.09" fill="#e78787"/>
<rect x="222.20" y="300.04" width="17.20" height="3.09" fill="#efb3b4"/>
<rect x="222.20" y="302.53" width="17.20" height="3.09" fill="#f1dee3"/>
<rect x="222.20" y="305.02" width="17.20" height="3.09" fill="#f2cfd2"/>
<rect x="222.20" y="307.51" width="17.20" height="3.09" fill="#f2cacd"/>
<rect x="238.80" y="11.30" width="17.20" height="3.09" fill="#eeaeaf"/>
<rect x="238.80" y="13.79" width="17.20" height="3.09" fill="#e57e7e"/>
<rect x="238.80" y="16.28" width="17.20" height="3.09" fill="#f0f0f8"/>
<rect x="238.80" y="18.77" width="17.20" height="3.09" fill="#f0f0f8"/>
<rect x="238.80" y="21.26" width="17.20" height="3.09" fill="#b1b1df"/>
<rect x="238.80" y="23.75" width="17.20" height="3.09" fill="#c7c7e8"/>
<rect x="238.80" y="26.23" width="17.20" height="3.09" fill="#d2d2ec"/>
<rect x="238.80" y="28.72" width="17.20" height="3.09" fill="#a6a6da"/>
<rect x="238.80" y="31.21" width="17.20" height="3.09" fill="#9b9bd5"/>
<rect x="238.80" y="33.70" width="17.20" height="3.09" fill="#ddddf1"/>
<rect x="238.80" y="36.19" width="17.20" height="3.09" fill="#dc5555"/>
<rect x="238.80" y="38.68" width="17.20" height="3.09" fill="#e16a6a"/>
<rect x="238.80" y="41.17" width="17.20" height="3.09" fill="#d84242"/>
<rect x="238.80" y="43.66" width="17.20" height="3.09" fill="#d42d2d"/>
<rect x="238.80" y="46.15" width="17.20" height="3.09" fill="#d42d2d"/>
<rect x="238.80" y="48.64" width="17.20" height="3.09" fill="#da4c4c"/>
<rect x="238.80" y="51.13" width="17.20" height="3.09" fill="#eca0a1"/>
<rect x="238.80" y="53.62" width="17.20" height="3.09" fill="#e98c8c"/>
<rect x="238.80" y="56.11" width="17.20" height="3.09" fill="#efb7b9"/>
<rect x="238.80" y="58.59" width="17.20" height="3.09" fill="#f1dbe0"/>
<rect x="238.80" y="61.08" width="17.20" height="3.09" fill="#9c9cd6"/>
<rect x="238.80" y="63.57" width="17.20" height="3.09" fill="#dcdcf0"/>
<rect x="238.80" y="66.06" width="17.20" height="3.09" fill="#f1c3c6"/>
<rect x="238.80" y="68.55" width="17.20" height="3.09" fill="#f2d3d7"/>
<rect x="238.80" y="71.04" width="17.20" height="3.09" fill="#eeabac"/>
<rect x="238.80" y="73.53" width="17.20" height="3.09" fill="#e68181"/>
<rect x="238.80" y="76.02" width="17.20" height="3.09" fill="#e37575"/>
<rect x="238.80" y="78.51" width="17.20" height="3.09" fill="#efb7b9"/>
<rect x="238.80" y="81.00" width="17.20" height="3.09" fill="#ec9fa0"/>
<rect x="238.80" y="83.49" width="17.20" height="3.09" fill="#e98d8d"/>
<rect x="238.80" y="85.97" width="17.20" height="3.09" fill="#efb8ba"/>
<rect x="238.80" y="88.46" width="17.20" height="3.09" fill="#f1dadf"/>
<rect x="238.80" y="90.95" width="17.20" height="3.09" fill="#f1e1e7"/>
<rect x="238.80" y="93.44" width="17.20" height="3.09" fill="#eeadae"/>
<rect x="238.80" y="95.93" width="17.20" height="3.09" fill="#f0ebf2"/>
<rect x="238.80" y="98.42" width="17.20" height="3.09" fill="#e8e8f5"/>
<rect x="238.80" y="100.91" width="17.20" height="3.09" fill="#a9a9dc"/>
<rect x="238.80" y="103.40" width="17.20" height="3.09" fill="#cfcfeb"/>
<rect x="238.80" y="105.89" width="17.20" height="3.09" fill="#dadaef"/>
<rect x="238.80" y="108.38" width="17.20" height="3.09" fill="#9e9ed7"/>
<rect x="238.80" y="110.87" width="17.20" height="3.09" fill="#8080c8"/>
<rect x="238.80" y="113.36" width="17.20" height="3.09" fill="#8e8ed0"/>
<rect x="238.80" y="115.84" width="17.20" height="3.09" fill="#f1e4ea"/>
<rect x="238.80" y="118.33" width="17.20" height="3.09" fill="#dedef1"/>
<rect x="238.80" y="120.82" width="17.20" height="3.09" fill="#9e9ed7"/>
<rect x="238.80" y="123.31" width="17.20" height="3.09" fill="#d9d9ef"/>
<rect x="238.80" y="125.80" width="17.20" height="3.09" fill="#8e8ed0"/>
<rect x="238.80" y="128.29" width="17.20" height="3.09" fill="#8181c9"/>
<rect x="238.80" y="130.78" width="17.20" height="3.09" fill="#7676c2"/>
<rect x="238.80" y="133.27" width="17.20" height="3.09" fill="#9999d5"/>
<rect x="238.80" y="135.76" width="17.20" height="3.09" fill="#7070be"/>
<rect x="238.80" y="138.25" width="17.20" height="3.09" fill="#37379b"/>
<rect x="238.80" y="140.74" width="17.20" height="3.09" fill="#8181c9"/>
<rect x="238.80" y="143.23" width="17.20" height="3.09" fill="#8d8dd0"/>
<rect x="238.80" y="145.72" width="17.20" height="3.09" fill="#9898d4"/>
<rect x="238.80" y="148.20" width="17.20" height="3.09" fill="#7777c2"/>
<rect x="238.80" y="150.69" width="17.20" height="3.09" fill="#6c6cbb"/>
<rect x="238.80" y="153.18" width="17.20" height="3.09" fill="#a3a3d9"/>
<rect x="238.80" y="155.67" width="17.20" height="3.09" fill="#8c8ccf"/>
<rect x="238.80" y="158.16" width="17.20" height="3.09" fill="#8282ca"/>
<rect x="238.80" y="160.65" width="17.20" height="3.09" fill="#ababdd"/>
<rect x="238.80" y="163.14" width="17.20" height="3.09" fill="#ccccea"/>
<rect x="238.80" y="165.63" width="17.20" height="3.09" fill="#d7d7ee"/>
<rect x="238.80" y="168.12" width="17.20" height="3.09" fill="#a0a0d8"/>
<rect x="238.80" y="170.61" width="17.20" height="3.09" fill="#ebebf6"/>
<rect x="238.80" y="173.10" width="17.20" height="3.09" fill="#f0edf4"/>
<rect x="238.80" y="175.59" width="17.20" height="3.09" fill="#9797d4"/>
<rect x="238.80" y="178.07" width="17.20" height="3.09" fill="#7878c3"/>
<rect x="238.80" y="180.56" width="17.20" height="3.09" fill="#6d6dbc"/>
<rect x="238.80" y="183.05" width="17.20" height="3.09" fill="#a2a2d9"/>
<rect x="238.80" y="185.54" width="17.20" height="3.09" fill="#8b8bcf"/>
<rect x="238.80" y="188.03" width="17.20" height="3.09" fill="#8383ca"/>
<rect x="238.80" y="190.52" width="17.20" height="3.09" fill="#4545a3"/>
<rect x="238.80" y="193.01" width="17.20" height="3.09" fill="#6363b6"/>
<rect x="238.80" y="195.50" width="17.20" height="3.09" fill="#a1a1d8"/>
<rect x="238.80" y="197.99" width="17.20" height="3.09" fill="#6e6ebd"/>
<rect x="238.80" y="200.48" width="17.20" height="3.09" fill="#8484cb"/>
<rect x="238.80" y="202.97" width="17.20" height="3.09" fill="#8b8bcf"/>
<rect x="238.80" y="205.46" width="17.20" height="3.09" fill="#9696d3"/>
<rect x="238.80" y="207.94" width="17.20" height="3.09" fill="#7979c4"/>
<rect x="238.80" y="210.43" width="17.20" height="3.09" fill="#6f6fbd"/>
<rect x="238.80" y="212.92" width="17.20" height="3.09" fill="#a1a1d8"/>
<rect x="238.80" y="215.41" width="17.20" height="3.09" fill="#8a8ace"/>
<rect x="238.80" y="217.90" width="17.20" height="3.09" fill="#8484cb"/>
<rect x="238.80" y="220.39" width="17.20" height="3.09" fill="#7a7ac4"/>
<rect x="238.80" y="222.88" width="17.20" height="3.09" fill="#9595d3"/>
<rect x="238.80" y="225.37" width="17.20" height="3.09" fill="#38389b"/>
<rect x="238.80" y="227.86" width="17.20" height="3.09" fill="#1e1e8c"/>
<rect x="238.80" y="230.35" width="17.20" height="3.09" fill="#1e1e8c"/>
<rect x="238.80" y="232.84" width="17.20" height="3.09" fill="#20208d"/>
<rect x="238.80" y="235.33" width="17.20" height="3.09" fill="#2c2c94"/>
<rect x="238.80" y="237.81" width="17.20" height="3.09" fill="#1e1e8c"/>
<rect x="238.80" y="240.30" width="17.20" height="3.09" fill="#3c3c9d"/>
<rect x="238.80" y="242.79" width="17.20" height="3.09" fill="#6c6cbb"/>
<rect x="238.80" y="245.28" width="17.20" height="3.09" fill="#20208d"/>
<rect x="238.80" y="247.77" width="17.20" height="3.09" fill="#1e1e8c"/>
<rect x="238.80" y="250.26" width="17.20" height="3.09" fill="#1e1e8c"/>
<rect x="238.80" y="252.75" width="17.20" height="3.09" fill="#2b2b94"/>
<rect x="238.80" y="255.24" width="17.20" height="3.09" fill="#6b6bbb"/>
<rect x="238.80" y="257.73" width="17.20" height="3.09" fill="#3c3c9e"/>
<rect x="238.80" y="260.22" width="17.20" height="3.09" fill="#8686cc"/>
<rect x="238.80" y="262.71" width="17.20" height="3.09" fill="#8888cd"/>
<rect x="238.80" y="265.19" width="17.20" height="3.09" fill="#9393d2"/>
<rect x="238.80" y="267.68" width="17.20" height="3.09" fill="#7c7cc5"/>
<rect x="238.80" y="270.17" width="17.20" height="3.09" fill="#a5a5da"/>
<rect x="238.80" y="272.66" width="17.20" height="3.09" fill="#d3d3ed"/>
<rect x="238.80" y="275.15" width="17.20" height="3.09" fill="#bcbce4"/>
<rect x="238.80" y="277.64" width="17.20" height="3.09" fill="#bcbce4"/>
<rect x="238.80" y="280.13" width="17.20" height="3.09" fill="#7c7cc6"/>
<rect x="238.80" y="282.62" width="17.20" height="3.09" fill="#9292d2"/>
<rect x="238.80" y="285.11" width="17.20" height="3.09" fill="#d2d2ec"/>
<rect x="238.80" y="287.60" width="17.20" height="3.09" fill="#a5a5da"/>
<rect x="238.80" y="290.09" width="17.20" height="3.09" fill="#6767b8"/>
<rect x="238.80" y="292.58" width="17.20" height="3.09" fill="#a9a9dc"/>
<rect x="238.80" y="295.06" width="17.20" height="3.09" fill="#c7c7e8"/>
<rect x="238.80" y="297.55" width="17.20" height="3.09" fill="#b1b1df"/>
<rect x="238.80" y="300.04" width="17.20" height="3.09" fill="#7272bf"/>
<rect x="238.80" y="302.53" width="17.20" height="3.09" fill="#9d9dd6"/>
<rect x="238.80" y="305.02" width="17.20" height="3.09" fill="#a8a8db"/>
<rect x="238.80" y="307.51" width="17.20" height="3.09" fill="#6868b8"/>
<rect x="255.40" y="11.30" width="17.20" height="3.09" fill="#efb9bb"/>
<rect x="255.40" y="13.79" width="17.20" height="3.09" fill="#f1dadf"/>
<rect x="255.40" y="16.28" width="17.20" height="3.09" fill="#f1e1e7"/>
<rect x="255.40" y="18.77" width="17.20" height="3.09" fill="#eeadaf"/>
<rect x="255.40" y="21.26" width="17.20" height="3.09" fill="#f0ebf2"/>
<rect x="255.40" y="23.75" width="17.20" height="3.09" fill="#e8e8f5"/>
<rect x="255.40" y="26.23" width="17.20" height="3.09" fill="#d83f3f"/>
<rect x="255.40" y="28.72" width="17.20" height="3.09" fill="#d42d2d"/>
<rect x="255.40" y="31.21" width="17.20" height="3.09" fill="#d84343"/>
<rect x="255.40" y="33.70" width="17.20" height="3.09" fill="#e57e7e"/>
<rect x="255.40" y="36.19" width="17.20" height="3.09" fill="#b5b5e1"/>
<rect x="255.40" y="38.68" width="17.20" height="3.09" fill="#c3c3e7"/>
<rect x="255.40" y="41.17" width="17.20" height="3.09" fill="#9999d5"/>
<rect x="255.40" y="43.66" width="17.20" height="3.09" fill="#7676c2"/>
<rect x="255.40" y="46.15" width="17.20" height="3.09" fill="#9f9fd7"/>
<rect x="255.40" y="48.64" width="17.20" height="3.09" fill="#d9d9ef"/>
<rect x="255.40" y="51.13" width="17.20" height="3.09" fill="#c2c2e6"/>
<rect x="255.40" y="53.62" width="17.20" height="3.09" fill="#b6b6e1"/>
<rect x="255.40" y="56.11" width="17.20" height="3.09" fill="#dfdff1"/>
<rect x="255.40" y="58.59" width="17.20" height="3.09" fill="#f1e4eb"/>
<rect x="255.40" y="61.08" width="17.20" height="3.09" fill="#eeafb1"/>
<rect x="255.40" y="63.57" width="17.20" height="3.09" fill="#f1e0e6"/>
<rect x="255.40" y="66.06" width="17.20" height="3.09" fill="#8282c9"/>
<rect x="255.40" y="68.55" width="17.20" height="3.09" fill="#8d8dcf"/>
<rect x="255.40" y="71.04" width="17.20" height="3.09" fill="#9898d4"/>
<rect x="255.40" y="73.53" width="17.20" height="3.09" fill="#7777c3"/>
<rect x="255.40" y="76.02" width="17.20" height="3.09" fill="#6d6dbc"/>
<rect x="255.40" y="78.51" width="17.20" height="3.09" fill="#a3a3d9"/>
<rect x="255.40" y="81.00" width="17.20" height="3.09" fill="#8c8ccf"/>
<rect x="255.40" y="83.49" width="17.20" height="3.09" fill="#8282ca"/>
<rect x="255.40" y="85.97" width="17.20" height="3.09" fill="#acacdd"/>
<rect x="255.40" y="88.46" width="17.20" height="3.09" fill="#ccccea"/>
<rect x="255.40" y="90.95" width="17.20" height="3.09" fill="#a2a2d9"/>
<rect x="255.40" y="93.44" width="17.20" height="3.09" fill="#6d6dbc"/>
<rect x="255.40" y="95.93" width="17.20" height="3.09" fill="#b8b8e2"/>
<rect x="255.40" y="98.42" width="17.20" height="3.09" fill="#c0c0e6"/>
<rect x="255.40" y="100.91" width="17.20" height="3.09" fill="#f0bdbf"/>
<rect x="255.40" y="103.40" width="17.20" height="3.09" fill="#f1d7dc"/>
<rect x="255.40" y="105.89" width="17.20" height="3.09" fill="#f1dfe4"/>
<rect x="255.40" y="108.38" width="17.20" height="3.09" fill="#eeb1b3"/>
<rect x="255.40" y="110.87" width="17.20" height="3.09" fill="#c0c0e5"/>
<rect x="255.40" y="113.36" width="17.20" height="3.09" fill="#b8b8e2"/>
<rect x="255.40" y="115.84" width="17.20" height="3.09" fill="#4646a3"/>
<rect x="255.40" y="118.33" width="17.20" height="3.09" fill="#6363b5"/>
<rect x="255.40" y="120.82" width="17.20" height="3.09" fill="#a1a1d8"/>
<rect x="255.40" y="123.31" width="17.20" height="3.09" fill="#6e6ebd"/>
<rect x="255.40" y="125.80" width="17.20" height="3.09" fill="#8484cb"/>
<rect x="255.40" y="128.29" width="17.20" height="3.09" fill="#8a8ace"/>
<rect x="255.40" y="130.78" width="17.20" height="3.09" fill="#9595d3"/>
<rect x="255.40" y="133.27" width="17.20" height="3.09" fill="#7a7ac4"/>
<rect x="255.40" y="135.76" width="17.20" height="3.09" fill="#d7d7ee"/>
<rect x="255.40" y="138.25" width="17.20" height="3.09" fill="#f1dfe5"/>
<rect x="255.40" y="140.74" width="17.20" height="3.09" fill="#8a8ace"/>
<rect x="255.40" y="143.23" width="17.20" height="3.09" fill="#8585cb"/>
<rect x="255.40" y="145.72" width="17.20" height="3.09" fill="#7a7ac5"/>
<rect x="255.40" y="148.20" width="17.20" height="3.09" fill="#9595d3"/>
<rect x="255.40" y="150.69" width="17.20" height="3.09" fill="#a0a0d8"/>
<rect x="255.40" y="153.18" width="17.20" height="3.09" fill="#7070be"/>
<rect x="255.40" y="155.67" width="17.20" height="3.09" fill="#8585cc"/>
<rect x="255.40" y="158.16" width="17.20" height="3.09" fill="#8989ce"/>
<rect x="255.40" y="160.65" width="17.20" height="3.09" fill="#c9c9e9"/>
<rect x="255.40" y="163.14" width="17.20" height="3.09" fill="#afafde"/>
<rect x="255.40" y="165.63" width="17.20" height="3.09" fill="#7070be"/>
<rect x="255.40" y="168.12" width="17.20" height="3.09" fill="#9f9fd7"/>
<rect x="255.40" y="170.61" width="17.20" height="3.09" fill="#5656ad"/>
<rect x="255.40" y="173.10" width="17.20" height="3.09" fill="#5454ab"/>
<rect x="255.40" y="175.59" width="17.20" height="3.09" fill="#b0b0df"/>
<rect x="255.40" y="178.07" width="17.20" height="3.09" fill="#c8c8e9"/>
<rect x="255.40" y="180.56" width="17.20" height="3.09" fill="#9e9ed7"/>
<rect x="255.40" y="183.05" width="17.20" height="3.09" fill="#7171be"/>
<rect x="255.40" y="185.54" width="17.20" height="3.09" fill="#8686cd"/>
<rect x="255.40" y="188.03" width="17.20" height="3.09" fill="#8888cd"/>
<rect x="255.40" y="190.52" width="17.20" height="3.09" fill="#f0e8ef"/>
<rect x="255.40" y="193.01" width="17.20" height="3.09" fill="#e5e5f4"/>
<rect x="255.40" y="195.50" width="17.20" height="3.09" fill="#a5a5da"/>
<rect x="255.40" y="197.99" width="17.20" height="3.09" fill="#d2d2ed"/>
<rect x="255.40" y="200.48" width="17.20" height="3.09" fill="#a9a9dc"/>
<rect x="255.40" y="202.97" width="17.20" height="3.09" fill="#6767b8"/>
<rect x="255.40" y="205.46" width="17.20" height="3.09" fill="#7d7dc6"/>
<rect x="255.40" y="207.94" width="17.20" height="3.09" fill="#9292d2"/>
<rect x="255.40" y="210.43" width="17.20" height="3.09" fill="#9d9dd7"/>
<rect x="255.40" y="212.92" width="17.20" height="3.09" fill="#7272bf"/>
<rect x="255.40" y="215.41" width="17.20" height="3.09" fill="#6868b8"/>
<rect x="255.40" y="217.90" width="17.20" height="3.09" fill="#a8a8db"/>
<rect x="255.40" y="220.39" width="17.20" height="3.09" fill="#9191d2"/>
<rect x="255.40" y="222.88" width="17.20" height="3.09" fill="#7d7dc7"/>
<rect x="255.40" y="225.37" width="17.20" height="3.09" fill="#a7a7db"/>
<rect x="255.40" y="227.86" width="17.20" height="3.09" fill="#d1d1ec"/>
<rect x="255.40" y="230.35" width="17.20" height="3.09" fill="#dcdcf0"/>
<rect x="255.40" y="232.84" width="17.20" height="3.09" fill="#9b9bd6"/>
<rect x="255.40" y="235.33" width="17.20" height="3.09" fill="#4b4ba6"/>
<rect x="255.40" y="237.81" width="17.20" height="3.09" fill="#5e5eb2"/>
<rect x="255.40" y="240.30" width="17.20" height="3.09" fill="#9c9cd6"/>
<rect x="255.40" y="242.79" width="17.20" height="3.09" fill="#7373c0"/>
<rect x="255.40" y="245.28" width="17.20" height="3.09" fill="#9c9cd6"/>
<rect x="255.40" y="247.77" width="17.20" height="3.09" fill="#dbdbf0"/>
<rect x="255.40" y="250.26" width="17.20" height="3.09" fill="#9090d1"/>
<rect x="255.40" y="252.75" width="17.20" height="3.09" fill="#7e7ec7"/>
<rect x="255.40" y="255.24" width="17.20" height="3.09" fill="#a8a8db"/>
<rect x="255.40" y="257.73" width="17.20" height="3.09" fill="#d0d0ec"/>
<rect x="255.40" y="260.22" width="17.20" height="3.09" fill="#a6a6db"/>
<rect x="255.40" y="262.71" width="17.20" height="3.09" fill="#6969ba"/>
<rect x="255.40" y="265.19" width="17.20" height="3.09" fill="#7f7fc8"/>
<rect x="255.40" y="267.68" width="17.20" height="3.09" fill="#8f8fd1"/>
<rect x="255.40" y="270.17" width="17.20" height="3.09" fill="#9b9bd5"/>
<rect x="255.40" y="272.66" width="17.20" height="3.09" fill="#7575c1"/>
<rect x="255.40" y="275.15" width="17.20" height="3.09" fill="#35359a"/>
<rect x="255.40" y="277.64" width="17.20" height="3.09" fill="#7272bf"/>
<rect x="255.40" y="280.13" width="17.20" height="3.09" fill="#8f8fd0"/>
<rect x="255.40" y="282.62" width="17.20" height="3.09" fill="#8080c8"/>
<rect x="255.40" y="285.11" width="17.20" height="3.09" fill="#1e1e8c"/>
<rect x="255.40" y="287.60" width="17.20" height="3.09" fill="#323297"/>
<rect x="255.40" y="290.09" width="17.20" height="3.09" fill="#3d3d9e"/>
<rect x="255.40" y="292.58" width="17.20" height="3.09" fill="#1e1e8c"/>
<rect x="255.40" y="295.06" width="17.20" height="3.09" fill="#8080c9"/>
<rect x="255.40" y="297.55" width="17.20" height="3.09" fill="#8e8ed0"/>
<rect x="255.40" y="300.04" width="17.20" height="3.09" fill="#9999d5"/>
<rect x="255.40" y="302.53" width="17.20" height="3.09" fill="#7676c2"/>
<rect x="255.40" y="305.02" width="17.20" height="3.09" fill="#6b6bbb"/>
<rect x="255.40" y="307.51" width="17.20" height="3.09" fill="#a4a4da"/>
<rect x="272.00" y="11.30" width="17.20" height="3.09" fill="#7878c3"/>
<rect x="272.00" y="13.79" width="17.20" height="3.09" fill="#9797d4"/>
<rect x="272.00" y="16.28" width="17.20" height="3.09" fill="#f1dee4"/>
<rect x="272.00" y="18.77" width="17.20" height="3.09" fill="#d6d6ee"/>
<rect x="272.00" y="21.26" width="17.20" height="3.09" fill="#b8b8e2"/>
<rect x="272.00" y="23.75" width="17.20" height="3.09" fill="#c0c0e6"/>
<rect x="272.00" y="26.23" width="17.20" height="3.09" fill="#9696d4"/>
<rect x="272.00" y="28.72" width="17.20" height="3.09" fill="#7979c4"/>
<rect x="272.00" y="31.21" width="17.20" height="3.09" fill="#a2a2d9"/>
<rect x="272.00" y="33.70" width="17.20" height="3.09" fill="#d6d6ee"/>
<rect x="272.00" y="36.19" width="17.20" height="3.09" fill="#f0eef5"/>
<rect x="272.00" y="38.68" width="17.20" height="3.09" fill="#ededf7"/>
<rect x="272.00" y="41.17" width="17.20" height="3.09" fill="#aeaede"/>
<rect x="272.00" y="43.66" width="17.20" height="3.09" fill="#cacae9"/>
<rect x="272.00" y="46.15" width="17.20" height="3.09" fill="#a1a1d8"/>
<rect x="272.00" y="48.64" width="17.20" height="3.09" fill="#6f6fbd"/>
<rect x="272.00" y="51.13" width="17.20" height="3.09" fill="#b9b9e3"/>
<rect x="272.00" y="53.62" width="17.20" height="3.09" fill="#bfbfe5"/>
<rect x="272.00" y="56.11" width="17.20" height="3.09" fill="#f1e7ee"/>
<rect x="272.00" y="58.59" width="17.20" height="3.09" fill="#e2e2f3"/>
<rect x="272.00" y="61.08" width="17.20" height="3.09" fill="#d8d8ef"/>
<rect x="272.00" y="63.57" width="17.20" height="3.09" fill="#f1e0e5"/>
<rect x="272.00" y="66.06" width="17.20" height="3.09" fill="#f2cbce"/>
<rect x="272.00" y="68.55" width="17.20" height="3.09" fill="#f2ced2"/>
<rect x="272.00" y="71.04" width="17.20" height="3.09" fill="#f2d6da"/>
<rect x="272.00" y="73.53" width="17.20" height="3.09" fill="#f0bfc2"/>
<rect x="272.00" y="76.02" width="17.20" height="3.09" fill="#efb4b5"/>
<rect x="272.00" y="78.51" width="17.20" height="3.09" fill="#f1dde2"/>
<rect x="272.00" y="81.00" width="17.20" height="3.09" fill="#efeff7"/>
<rect x="272.00" y="83.49" width="17.20" height="3.09" fill="#f0eff7"/>
<rect x="272.00" y="85.97" width="17.20" height="3.09" fill="#f0e8ef"/>
<rect x="272.00" y="88.46" width="17.20" height="3.09" fill="#e4e4f3"/>
<rect x="272.00" y="90.95" width="17.20" height="3.09" fill="#a4a4da"/>
<rect x="272.00" y="93.44" width="17.20" height="3.09" fill="#d3d3ed"/>
<rect x="272.00" y="95.93" width="17.20" height="3.09" fill="#de5e5e"/>
<rect x="272.00" y="98.42" width="17.20" height="3.09" fill="#de6060"/>
<rect x="272.00" y="100.91" width="17.20" height="3.09" fill="#e16b6b"/>
<rect x="272.00" y="103.40" width="17.20" height="3.09" fill="#dc5454"/>
<rect x="272.00" y="105.89" width="17.20" height="3.09" fill="#d42d2d"/>
<rect x="272.00" y="108.38" width="17.20" height="3.09" fill="#d84343"/>
<rect x="272.00" y="110.87" width="17.20" height="3.09" fill="#d42d2d"/>
<rect x="272.00" y="113.36" width="17.20" height="3.09" fill="#d42d2d"/>
<rect x="272.00" y="115.84" width="17.20" height="3.09" fill="#6060b3"/>
<rect x="272.00" y="118.33" width="17.20" height="3.09" fill="#4949a5"/>
<rect x="272.00" y="120.82" width="17.20" height="3.09" fill="#7272bf"/>
<rect x="272.00" y="123.31" width="17.20" height="3.09" fill="#9d9dd7"/>
<rect x="272.00" y="125.80" width="17.20" height="3.09" fill="#a8a8dc"/>
<rect x="272.00" y="128.29" width="17.20" height="3.09" fill="#6767b8"/>
<rect x="272.00" y="130.78" width="17.20" height="3.09" fill="#7d7dc6"/>
<rect x="272.00" y="133.27" width="17.20" height="3.09" fill="#9292d2"/>
<rect x="272.00" y="135.76" width="17.20" height="3.09" fill="#9d9dd6"/>
<rect x="272.00" y="138.25" width="17.20" height="3.09" fill="#7373bf"/>
<rect x="272.00" y="140.74" width="17.20" height="3.09" fill="#6868b9"/>
<rect x="272.00" y="143.23" width="17.20" height="3.09" fill="#a8a8db"/>
<rect x="272.00" y="145.72" width="17.20" height="3.09" fill="#9191d1"/>
<rect x="272.00" y="148.20" width="17.20" height="3.09" fill="#7e7ec7"/>
<rect x="272.00" y="150.69" width="17.20" height="3.09" fill="#7373c0"/>
<rect x="272.00" y="153.18" width="17.20" height="3.09" fill="#9c9cd6"/>
<rect x="272.00" y="155.67" width="17.20" height="3.09" fill="#a7a7db"/>
<rect x="272.00" y="158.16" width="17.20" height="3.09" fill="#6969b9"/>
<rect x="272.00" y="160.65" width="17.20" height="3.09" fill="#7e7ec7"/>
<rect x="272.00" y="163.14" width="17.20" height="3.09" fill="#9090d1"/>
<rect x="272.00" y="165.63" width="17.20" height="3.09" fill="#333398"/>
<rect x="272.00" y="168.12" width="17.20" height="3.09" fill="#1e1e8c"/>
<rect x="272.00" y="170.61" width="17.20" height="3.09" fill="#343499"/>
<rect x="272.00" y="173.10" width="17.20" height="3.09" fill="#7373c0"/>
<rect x="272.00" y="175.59" width="17.20" height="3.09" fill="#9090d1"/>
<rect x="272.00" y="178.07" width="17.20" height="3.09" fill="#7f7fc8"/>
<rect x="272.00" y="180.56" width="17.20" height="3.09" fill="#7474c1"/>
<rect x="272.00" y="183.05" width="17.20" height="3.09" fill="#9b9bd6"/>
<rect x="272.00" y="185.54" width="17.20" height="3.09" fill="#a6a6da"/>
<rect x="272.00" y="188.03" width="17.20" height="3.09" fill="#6a6aba"/>
<rect x="272.00" y="190.52" width="17.20" height="3.09" fill="#4d4da7"/>
<rect x="272.00" y="193.01" width="17.20" height="3.09" fill="#5d5db1"/>
<rect x="272.00" y="195.50" width="17.20" height="3.09" fill="#6767b8"/>
<rect x="272.00" y="197.99" width="17.20" height="3.09" fill="#4141a0"/>
<rect x="272.00" y="200.48" width="17.20" height="3.09" fill="#6a6aba"/>
<rect x="272.00" y="202.97" width="17.20" height="3.09" fill="#a5a5da"/>
<rect x="272.00" y="205.46" width="17.20" height="3.09" fill="#8e8ed0"/>
<rect x="272.00" y="207.94" width="17.20" height="3.09" fill="#8080c8"/>
<rect x="272.00" y="210.43" width="17.20" height="3.09" fill="#7676c1"/>
<rect x="272.00" y="212.92" width="17.20" height="3.09" fill="#9999d5"/>
<rect x="272.00" y="215.41" width="17.20" height="3.09" fill="#a5a5da"/>
<rect x="272.00" y="217.90" width="17.20" height="3.09" fill="#6b6bbb"/>
<rect x="272.00" y="220.39" width="17.20" height="3.09" fill="#8181c9"/>
<rect x="272.00" y="222.88" width="17.20" height="3.09" fill="#8e8ed0"/>
<rect x="272.00" y="225.37" width="17.20" height="3.09" fill="#ceceeb"/>
<rect x="272.00" y="227.86" width="17.20" height="3.09" fill="#aaaadc"/>
<rect x="272.00" y="230.35" width="17.20" height="3.09" fill="#9f9fd7"/>
<rect x="272.00" y="232.84" width="17.20" height="3.09" fill="#d8d8ef"/>
<rect x="272.00" y="235.33" width="17.20" height="3.09" fill="#c2c2e6"/>
<rect x="272.00" y="237.81" width="17.20" height="3.09" fill="#b6b6e1"/>
<rect x="272.00" y="240.30" width="17.20" height="3.09" fill="#dfdff2"/>
<rect x="272.00" y="242.79" width="17.20" height="3.09" fill="#f1e5eb"/>
<rect x="272.00" y="245.28" width="17.20" height="3.09" fill="#d8d8ef"/>
<rect x="272.00" y="247.77" width="17.20" height="3.09" fill="#a0a0d8"/>
<rect x="272.00" y="250.26" width="17.20" height="3.09" fill="#b7b7e2"/>
<rect x="272.00" y="252.75" width="17.20" height="3.09" fill="#c1c1e6"/>
<rect x="272.00" y="255.24" width="17.20" height="3.09" fill="#ccccea"/>
<rect x="272.00" y="257.73" width="17.20" height="3.09" fill="#ababdd"/>
<rect x="272.00" y="260.22" width="17.20" height="3.09" fill="#6d6dbc"/>
<rect x="272.00" y="262.71" width="17.20" height="3.09" fill="#a3a3d9"/>
<rect x="272.00" y="265.19" width="17.20" height="3.09" fill="#8c8ccf"/>
<rect x="272.00" y="267.68" width="17.20" height="3.09" fill="#8282ca"/>
<rect x="272.00" y="270.17" width="17.20" height="3.09" fill="#7878c3"/>
<rect x="272.00" y="272.66" width="17.20" height="3.09" fill="#9797d4"/>
<rect x="272.00" y="275.15" width="17.20" height="3.09" fill="#a2a2d9"/>
<rect x="272.00" y="277.64" width="17.20" height="3.09" fill="#6e6ebc"/>
<rect x="272.00" y="280.13" width="17.20" height="3.09" fill="#8383ca"/>
<rect x="272.00" y="282.62" width="17.20" height="3.09" fill="#8b8bcf"/>
<rect x="272.00" y="285.11" width="17.20" height="3.09" fill="#f1e6ec"/>
<rect x="272.00" y="287.60" width="17.20" height="3.09" fill="#e1e1f2"/>
<rect x="272.00" y="290.09" width="17.20" height="3.09" fill="#a2a2d9"/>
<rect x="272.00" y="292.58" width="17.20" height="3.09" fill="#d6d6ee"/>
<rect x="272.00" y="295.06" width="17.20" height="3.09" fill="#8b8bcf"/>
<rect x="272.00" y="297.55" width="17.20" height="3.09" fill="#8484cb"/>
<rect x="272.00" y="300.04" width="17.20" height="3.09" fill="#7979c4"/>
<rect x="272.00" y="302.53" width="17.20" height="3.09" fill="#9696d3"/>
<rect x="272.00" y="305.02" width="17.20" height="3.09" fill="#a1a1d8"/>
<rect x="272.00" y="307.51" width="17.20" height="3.09" fill="#6f6fbd"/>
</g>
<rect x="291.10" y="11.10" width="4.30" height="1.05" fill="#d32c2c"/>
<rect x="291.10" y="12.10" width="4.30" height="1.05" fill="#d53535"/>
<rect x="291.10" y="13.09" width="4.30" height="1.05" fill="#d73e3e"/>
<rect x="291.10" y="14.09" width="4.30" height="1.05" fill="#d94747"/>
<rect x="291.10" y="15.09" width="4.30" height="1.05" fill="#db5050"/>
<rect x="291.10" y="16.08" width="4.30" height="1.05" fill="#dd5959"/>
<rect x="291.10" y="17.08" width="4.30" height="1.05" fill="#e06262"/>
<rect x="291.10" y="18.08" width="4.30" height="1.05" fill="#e26b6b"/>
<rect x="291.10" y="19.08" width="4.30" height="1.05" fill="#e47474"/>
<rect x="291.10" y="20.07" width="4.30" height="1.05" fill="#e67d7d"/>
<rect x="291.10" y="21.07" width="4.30" height="1.05" fill="#e88686"/>
<rect x="291.10" y="22.07" width="4.30" height="1.05" fill="#ea9394"/>
<rect x="291.10" y="23.06" width="4.30" height="1.05" fill="#eca0a1"/>
<rect x="291.10" y="24.06" width="4.30" height="1.05" fill="#eeadae"/>
<rect x="291.10" y="25.06" width="4.30" height="1.05" fill="#f0babc"/>
<rect x="291.10" y="26.05" width="4.30" height="1.05" fill="#f2c7c9"/>
<rect x="291.10" y="27.05" width="4.30" height="1.05" fill="#f4d4d7"/>
<rect x="291.10" y="28.05" width="4.30" height="1.05" fill="#f6e1e4"/>
<rect x="291.10" y="29.04" width="4.30" height="1.05" fill="#f8eef1"/>
<rect x="291.10" y="30.04" width="4.30" height="1.05" fill="#f6eff4"/>
<rect x="291.10" y="31.04" width="4.30" height="1.05" fill="#f4edf3"/>
<rect x="291.10" y="32.04" width="4.30" height="1.05" fill="#f1ebf3"/>
<rect x="291.10" y="33.03" width="4.30" height="1.05" fill="#efe9f2"/>
<rect x="291.10" y="34.03" width="4.30" height="1.05" fill="#ede7f2"/>
<rect x="291.10" y="35.03" width="4.30" height="1.05" fill="#eae5f1"/>
<rect x="291.10" y="36.02" width="4.30" height="1.05" fill="#e8e4f1"/>
<rect x="291.10" y="37.02" width="4.30" height="1.05" fill="#e5e2f1"/>
<rect x="291.10" y="38.02" width="4.30" height="1.05" fill="#e3e0f0"/>
<rect x="291.10" y="39.01" width="4.30" height="1.05" fill="#e1def0"/>
<rect x="291.10" y="40.01" width="4.30" height="1.05" fill="#dedcef"/>
<rect x="291.10" y="41.01" width="4.30" height="1.05" fill="#dcdbef"/>
<rect x="291.10" y="42.00" width="4.30" height="1.05" fill="#d9d9ee"/>
<rect x="291.10" y="43.00" width="4.30" height="1.05" fill="#d7d7ee"/>
<rect x="291.10" y="44.00" width="4.30" height="1.05" fill="#d1d1eb"/>
<rect x="291.10" y="45.00" width="4.30" height="1.05" fill="#cacae8"/>
<rect x="291.10" y="45.99" width="4.30" height="1.05" fill="#c4c4e6"/>
<rect x="291.10" y="46.99" width="4.30" height="1.05" fill="#bebee3"/>
<rect x="291.10" y="47.99" width="4.30" height="1.05" fill="#b7b7e0"/>
<rect x="291.10" y="48.98" width="4.30" height="1.05" fill="#b1b1dd"/>
<rect x="291.10" y="49.98" width="4.30" height="1.05" fill="#ababda"/>
<rect x="291.10" y="50.98" width="4.30" height="1.05" fill="#a4a4d7"/>
<rect x="291.10" y="51.97" width="4.30" height="1.05" fill="#9e9ed5"/>
<rect x="291.10" y="52.97" width="4.30" height="1.05" fill="#9898d2"/>
<rect x="291.10" y="53.97" width="4.30" height="1.05" fill="#9191cf"/>
<rect x="291.10" y="54.96" width="4.30" height="1.05" fill="#8b8bcc"/>
<rect x="291.10" y="55.96" width="4.30" height="1.05" fill="#8585c9"/>
<rect x="291.10" y="56.96" width="4.30" height="1.05" fill="#7e7ec6"/>
<rect x="291.10" y="57.96" width="4.30" height="1.05" fill="#7878c4"/>
<rect x="291.10" y="58.95" width="4.30" height="1.05" fill="#7272c1"/>
<rect x="291.10" y="59.95" width="4.30" height="1.05" fill="#6c6cbd"/>
<rect x="291.10" y="60.95" width="4.30" height="1.05" fill="#6666b9"/>
<rect x="291.10" y="61.94" width="4.30" height="1.05" fill="#6060b6"/>
<rect x="291.10" y="62.94" width="4.30" height="1.05" fill="#5b5bb2"/>
<rect x="291.10" y="63.94" width="4.30" height="1.05" fill="#5555ae"/>
<rect x="291.10" y="64.93" width="4.30" height="1.05" fill="#4f4faa"/>
<rect x="291.10" y="65.93" width="4.30" height="1.05" fill="#4a4aa6"/>
<rect x="291.10" y="66.93" width="4.30" height="1.05" fill="#4444a2"/>
<rect x="291.10" y="67.92" width="4.30" height="1.05" fill="#3e3e9f"/>
<rect x="291.10" y="68.92" width="4.30" height="1.05" fill="#39399b"/>
<rect x="291.10" y="69.92" width="4.30" height="1.05" fill="#333397"/>
<rect x="291.10" y="70.92" width="4.30" height="1.05" fill="#2d2d93"/>
<rect x="291.10" y="71.91" width="4.30" height="1.05" fill="#28288f"/>
<rect x="291.10" y="72.91" width="4.30" height="1.05" fill="#22228c"/>
<rect x="291.10" y="73.91" width="4.30" height="1.05" fill="#1c1c88"/>
<rect x="291.10" y="74.90" width="4.30" height="1.05" fill="#171784"/>
<text x="297.11" y="13.57" font-size="7.90" fill="#222" stroke="#222" stroke-width="0.22" >2</text>
<text x="296.91" y="29.39" font-size="7.90" fill="#222" stroke="#222" stroke-width="0.22" >1</text>
<text x="297.18" y="45.25" font-size="7.90" fill="#222" stroke="#222" stroke-width="0.22" >0</text>
<text x="297.11" y="61.11" font-size="7.90" fill="#222" stroke="#222" stroke-width="0.22" >−1</text>
<text x="297.11" y="77.00" font-size="7.90" fill="#222" stroke="#222" stroke-width="0.22" >−2</text>
<text x="169.65" y="20.97" font-size="11.50" fill="#000" stroke="#000" stroke-width="0.22" >B</text>
<text x="192.86" y="321.83" font-size="7.90" fill="#111" stroke="#111" stroke-width="0.22" >3</text>
<text x="209.44" y="321.83" font-size="7.90" fill="#111" stroke="#111" stroke-width="0.22" >1</text>
<text x="227.67" y="321.83" font-size="7.90" fill="#111" stroke="#111" stroke-width="0.22" >6</text>
<text x="244.81" y="321.79" font-size="7.90" fill="#111" stroke="#111" stroke-width="0.22" >5</text>
<text x="261.41" y="321.87" font-size="7.90" fill="#111" stroke="#111" stroke-width="0.22" >2</text>
<text x="277.75" y="321.83" font-size="7.90" fill="#111" stroke="#111" stroke-width="0.22" >4</text>
<line x1="188" y1="325.9" x2="233.2" y2="325.9" stroke="#222" stroke-width="0.8"/>
<line x1="238.5" y1="325.9" x2="283.7" y2="325.9" stroke="#222" stroke-width="0.8"/>
<text x="193.73" y="337.08" font-size="7.90" fill="#111" stroke="#111" stroke-width="0.22" >ZBED6 KO</text>
<text x="255.87" y="336.16" font-size="7.70" fill="#111" stroke="#111" stroke-width="0.22" >WT</text>
<g shape-rendering="crispEdges">
<rect x="327.90" y="11.30" width="17.15" height="3.09" fill="#a2a2d9"/>
<rect x="327.90" y="13.79" width="17.15" height="3.09" fill="#6d6dbc"/>
<rect x="327.90" y="16.28" width="17.15" height="3.09" fill="#8383ca"/>
<rect x="327.90" y="18.77" width="17.15" height="3.09" fill="#8b8bcf"/>
<rect x="327.90" y="21.26" width="17.15" height="3.09" fill="#cbcbea"/>
<rect x="327.90" y="23.75" width="17.15" height="3.09" fill="#acacdd"/>
<rect x="327.90" y="26.23" width="17.15" height="3.09" fill="#d6d6ee"/>
<rect x="327.90" y="28.72" width="17.15" height="3.09" fill="#f1dee4"/>
<rect x="327.90" y="31.21" width="17.15" height="3.09" fill="#c0c0e5"/>
<rect x="327.90" y="33.70" width="17.15" height="3.09" fill="#b8b8e2"/>
<rect x="327.90" y="36.19" width="17.15" height="3.09" fill="#eda5a6"/>
<rect x="327.90" y="38.68" width="17.15" height="3.09" fill="#e78787"/>
<rect x="327.90" y="41.17" width="17.15" height="3.09" fill="#efb2b4"/>
<rect x="327.90" y="43.66" width="17.15" height="3.09" fill="#f1dee4"/>
<rect x="327.90" y="46.15" width="17.15" height="3.09" fill="#ededf7"/>
<rect x="327.90" y="48.64" width="17.15" height="3.09" fill="#f0eef6"/>
<rect x="327.90" y="51.13" width="17.15" height="3.09" fill="#f0bec0"/>
<rect x="327.90" y="53.62" width="17.15" height="3.09" fill="#f1d6db"/>
<rect x="327.90" y="56.11" width="17.15" height="3.09" fill="#eeb0b2"/>
<rect x="327.90" y="58.59" width="17.15" height="3.09" fill="#e57c7c"/>
<rect x="327.90" y="61.08" width="17.15" height="3.09" fill="#ea9393"/>
<rect x="327.90" y="63.57" width="17.15" height="3.09" fill="#eb9999"/>
<rect x="327.90" y="66.06" width="17.15" height="3.09" fill="#f1d6da"/>
<rect x="327.90" y="68.55" width="17.15" height="3.09" fill="#f0bfc1"/>
<rect x="327.90" y="71.04" width="17.15" height="3.09" fill="#efb3b5"/>
<rect x="327.90" y="73.53" width="17.15" height="3.09" fill="#f1dde3"/>
<rect x="327.90" y="76.02" width="17.15" height="3.09" fill="#eb9898"/>
<rect x="327.90" y="78.51" width="17.15" height="3.09" fill="#eb9494"/>
<rect x="327.90" y="81.00" width="17.15" height="3.09" fill="#dc5353"/>
<rect x="327.90" y="83.49" width="17.15" height="3.09" fill="#e16c6c"/>
<rect x="327.90" y="85.97" width="17.15" height="3.09" fill="#e47878"/>
<rect x="327.90" y="88.46" width="17.15" height="3.09" fill="#d94848"/>
<rect x="327.90" y="90.95" width="17.15" height="3.09" fill="#d42d2d"/>
<rect x="327.90" y="93.44" width="17.15" height="3.09" fill="#d42e2e"/>
<rect x="327.90" y="95.93" width="17.15" height="3.09" fill="#7b7bc5"/>
<rect x="327.90" y="98.42" width="17.15" height="3.09" fill="#9393d2"/>
<rect x="327.90" y="100.91" width="17.15" height="3.09" fill="#9e9ed7"/>
<rect x="327.90" y="103.40" width="17.15" height="3.09" fill="#7171be"/>
<rect x="327.90" y="105.89" width="17.15" height="3.09" fill="#bbbbe4"/>
<rect x="327.90" y="108.38" width="17.15" height="3.09" fill="#bdbde4"/>
<rect x="327.90" y="110.87" width="17.15" height="3.09" fill="#9393d2"/>
<rect x="327.90" y="113.36" width="17.15" height="3.09" fill="#7c7cc6"/>
<rect x="327.90" y="115.84" width="17.15" height="3.09" fill="#a5a5da"/>
<rect x="327.90" y="118.33" width="17.15" height="3.09" fill="#d2d2ed"/>
<rect x="327.90" y="120.82" width="17.15" height="3.09" fill="#f1dade"/>
<rect x="327.90" y="123.31" width="17.15" height="3.09" fill="#cfcfeb"/>
<rect x="327.90" y="125.80" width="17.15" height="3.09" fill="#7d7dc6"/>
<rect x="327.90" y="128.29" width="17.15" height="3.09" fill="#9292d2"/>
<rect x="327.90" y="130.78" width="17.15" height="3.09" fill="#f1e1e7"/>
<rect x="327.90" y="133.27" width="17.15" height="3.09" fill="#dadaf0"/>
<rect x="327.90" y="135.76" width="17.15" height="3.09" fill="#9b9bd6"/>
<rect x="327.90" y="138.25" width="17.15" height="3.09" fill="#ddddf1"/>
<rect x="327.90" y="140.74" width="17.15" height="3.09" fill="#5f5fb2"/>
<rect x="327.90" y="143.23" width="17.15" height="3.09" fill="#4a4aa6"/>
<rect x="327.90" y="145.72" width="17.15" height="3.09" fill="#3f3f9f"/>
<rect x="327.90" y="148.20" width="17.15" height="3.09" fill="#6969b9"/>
<rect x="327.90" y="150.69" width="17.15" height="3.09" fill="#7474c0"/>
<rect x="327.90" y="153.18" width="17.15" height="3.09" fill="#333398"/>
<rect x="327.90" y="155.67" width="17.15" height="3.09" fill="#7e7ec7"/>
<rect x="327.90" y="158.16" width="17.15" height="3.09" fill="#9191d1"/>
<rect x="327.90" y="160.65" width="17.15" height="3.09" fill="#d0d0ec"/>
<rect x="327.90" y="163.14" width="17.15" height="3.09" fill="#a7a7db"/>
<rect x="327.90" y="165.63" width="17.15" height="3.09" fill="#6969b9"/>
<rect x="327.90" y="168.12" width="17.15" height="3.09" fill="#a7a7db"/>
<rect x="327.90" y="170.61" width="17.15" height="3.09" fill="#9090d1"/>
<rect x="327.90" y="173.10" width="17.15" height="3.09" fill="#7e7ec7"/>
<rect x="327.90" y="175.59" width="17.15" height="3.09" fill="#7474c0"/>
<rect x="327.90" y="178.07" width="17.15" height="3.09" fill="#9b9bd6"/>
<rect x="327.90" y="180.56" width="17.15" height="3.09" fill="#dbdbf0"/>
<rect x="327.90" y="183.05" width="17.15" height="3.09" fill="#9d9dd6"/>
<rect x="327.90" y="185.54" width="17.15" height="3.09" fill="#7f7fc8"/>
<rect x="327.90" y="188.03" width="17.15" height="3.09" fill="#8f8fd1"/>
<rect x="327.90" y="190.52" width="17.15" height="3.09" fill="#9b9bd5"/>
<rect x="327.90" y="193.01" width="17.15" height="3.09" fill="#7575c1"/>
<rect x="327.90" y="195.50" width="17.15" height="3.09" fill="#6a6aba"/>
<rect x="327.90" y="197.99" width="17.15" height="3.09" fill="#a6a6da"/>
<rect x="327.90" y="200.48" width="17.15" height="3.09" fill="#5c5cb1"/>
<rect x="327.90" y="202.97" width="17.15" height="3.09" fill="#4d4da7"/>
<rect x="327.90" y="205.46" width="17.15" height="3.09" fill="#a9a9dc"/>
<rect x="327.90" y="207.94" width="17.15" height="3.09" fill="#cfcfeb"/>
<rect x="327.90" y="210.43" width="17.15" height="3.09" fill="#a5a5da"/>
<rect x="327.90" y="212.92" width="17.15" height="3.09" fill="#6b6bba"/>
<rect x="327.90" y="215.41" width="17.15" height="3.09" fill="#8080c9"/>
<rect x="327.90" y="217.90" width="17.15" height="3.09" fill="#8e8ed0"/>
<rect x="327.90" y="220.39" width="17.15" height="3.09" fill="#f1e4ea"/>
<rect x="327.90" y="222.88" width="17.15" height="3.09" fill="#dedef1"/>
<rect x="327.90" y="225.37" width="17.15" height="3.09" fill="#f1e0e6"/>
<rect x="327.90" y="227.86" width="17.15" height="3.09" fill="#eeafb0"/>
<rect x="327.90" y="230.35" width="17.15" height="3.09" fill="#f1c6c9"/>
<rect x="327.90" y="232.84" width="17.15" height="3.09" fill="#f2d1d5"/>
<rect x="327.90" y="235.33" width="17.15" height="3.09" fill="#aaaadc"/>
<rect x="327.90" y="237.81" width="17.15" height="3.09" fill="#cdcdeb"/>
<rect x="327.90" y="240.30" width="17.15" height="3.09" fill="#a4a4d9"/>
<rect x="327.90" y="242.79" width="17.15" height="3.09" fill="#6c6cbb"/>
<rect x="327.90" y="245.28" width="17.15" height="3.09" fill="#8181c9"/>
<rect x="327.90" y="247.77" width="17.15" height="3.09" fill="#8d8dd0"/>
<rect x="327.90" y="250.26" width="17.15" height="3.09" fill="#6565b7"/>
<rect x="327.90" y="252.75" width="17.15" height="3.09" fill="#4343a2"/>
<rect x="327.90" y="255.24" width="17.15" height="3.09" fill="#6d6dbc"/>
<rect x="327.90" y="257.73" width="17.15" height="3.09" fill="#a3a3d9"/>
<rect x="327.90" y="260.22" width="17.15" height="3.09" fill="#8c8ccf"/>
<rect x="327.90" y="262.71" width="17.15" height="3.09" fill="#8282ca"/>
<rect x="327.90" y="265.19" width="17.15" height="3.09" fill="#7878c3"/>
<rect x="327.90" y="267.68" width="17.15" height="3.09" fill="#9797d4"/>
<rect x="327.90" y="270.17" width="17.15" height="3.09" fill="#a2a2d9"/>
<rect x="327.90" y="272.66" width="17.15" height="3.09" fill="#6d6dbc"/>
<rect x="327.90" y="275.15" width="17.15" height="3.09" fill="#5050a9"/>
<rect x="327.90" y="277.64" width="17.15" height="3.09" fill="#5959af"/>
<rect x="327.90" y="280.13" width="17.15" height="3.09" fill="#2e2e95"/>
<rect x="327.90" y="282.62" width="17.15" height="3.09" fill="#1e1e8c"/>
<rect x="327.90" y="285.11" width="17.15" height="3.09" fill="#1e1e8c"/>
<rect x="327.90" y="287.60" width="17.15" height="3.09" fill="#3a3a9c"/>
<rect x="327.90" y="290.09" width="17.15" height="3.09" fill="#c0c0e5"/>
<rect x="327.90" y="292.58" width="17.15" height="3.09" fill="#b8b8e2"/>
<rect x="327.90" y="295.06" width="17.15" height="3.09" fill="#1e1e8c"/>
<rect x="327.90" y="297.55" width="17.15" height="3.09" fill="#2e2e95"/>
<rect x="327.90" y="300.04" width="17.15" height="3.09" fill="#39399c"/>
<rect x="327.90" y="302.53" width="17.15" height="3.09" fill="#1e1e8c"/>
<rect x="327.90" y="305.02" width="17.15" height="3.09" fill="#8484cb"/>
<rect x="327.90" y="307.51" width="17.15" height="3.09" fill="#8a8ace"/>
<rect x="344.45" y="11.30" width="17.15" height="3.09" fill="#a4a4da"/>
<rect x="344.45" y="13.79" width="17.15" height="3.09" fill="#d3d3ed"/>
<rect x="344.45" y="16.28" width="17.15" height="3.09" fill="#8888cd"/>
<rect x="344.45" y="18.77" width="17.15" height="3.09" fill="#8686cc"/>
<rect x="344.45" y="21.26" width="17.15" height="3.09" fill="#e4e4f3"/>
<rect x="344.45" y="23.75" width="17.15" height="3.09" fill="#f0e8ef"/>
<rect x="344.45" y="26.23" width="17.15" height="3.09" fill="#f1e1e7"/>
<rect x="344.45" y="28.72" width="17.15" height="3.09" fill="#d9d9ef"/>
<rect x="344.45" y="31.21" width="17.15" height="3.09" fill="#5555ac"/>
<rect x="344.45" y="33.70" width="17.15" height="3.09" fill="#5555ac"/>
<rect x="344.45" y="36.19" width="17.15" height="3.09" fill="#9292d2"/>
<rect x="344.45" y="38.68" width="17.15" height="3.09" fill="#7c7cc6"/>
<rect x="344.45" y="41.17" width="17.15" height="3.09" fill="#7272bf"/>
<rect x="344.45" y="43.66" width="17.15" height="3.09" fill="#9d9dd7"/>
<rect x="344.45" y="46.15" width="17.15" height="3.09" fill="#a8a8dc"/>
<rect x="344.45" y="48.64" width="17.15" height="3.09" fill="#6767b8"/>
<rect x="344.45" y="51.13" width="17.15" height="3.09" fill="#1e1e8c"/>
<rect x="344.45" y="53.62" width="17.15" height="3.09" fill="#292992"/>
<rect x="344.45" y="56.11" width="17.15" height="3.09" fill="#9d9dd6"/>
<rect x="344.45" y="58.59" width="17.15" height="3.09" fill="#7272bf"/>
<rect x="344.45" y="61.08" width="17.15" height="3.09" fill="#6868b9"/>
<rect x="344.45" y="63.57" width="17.15" height="3.09" fill="#a8a8db"/>
<rect x="344.45" y="66.06" width="17.15" height="3.09" fill="#f1c3c5"/>
<rect x="344.45" y="68.55" width="17.15" height="3.09" fill="#f2d4d8"/>
<rect x="344.45" y="71.04" width="17.15" height="3.09" fill="#a7a7db"/>
<rect x="344.45" y="73.53" width="17.15" height="3.09" fill="#d1d1ec"/>
<rect x="344.45" y="76.02" width="17.15" height="3.09" fill="#a7a7db"/>
<rect x="344.45" y="78.51" width="17.15" height="3.09" fill="#6969b9"/>
<rect x="344.45" y="81.00" width="17.15" height="3.09" fill="#b3b3e0"/>
<rect x="344.45" y="83.49" width="17.15" height="3.09" fill="#c5c5e8"/>
<rect x="344.45" y="85.97" width="17.15" height="3.09" fill="#d0d0ec"/>
<rect x="344.45" y="88.46" width="17.15" height="3.09" fill="#a8a8db"/>
<rect x="344.45" y="90.95" width="17.15" height="3.09" fill="#6969b9"/>
<rect x="344.45" y="93.44" width="17.15" height="3.09" fill="#a7a7db"/>
<rect x="344.45" y="95.93" width="17.15" height="3.09" fill="#9090d1"/>
<rect x="344.45" y="98.42" width="17.15" height="3.09" fill="#7f7fc8"/>
<rect x="344.45" y="100.91" width="17.15" height="3.09" fill="#7474c1"/>
<rect x="344.45" y="103.40" width="17.15" height="3.09" fill="#9b9bd6"/>
<rect x="344.45" y="105.89" width="17.15" height="3.09" fill="#dadaf0"/>
<rect x="344.45" y="108.38" width="17.15" height="3.09" fill="#9d9dd7"/>
<rect x="344.45" y="110.87" width="17.15" height="3.09" fill="#b4b4e0"/>
<rect x="344.45" y="113.36" width="17.15" height="3.09" fill="#c4c4e7"/>
<rect x="344.45" y="115.84" width="17.15" height="3.09" fill="#cfcfeb"/>
<rect x="344.45" y="118.33" width="17.15" height="3.09" fill="#a9a9dc"/>
<rect x="344.45" y="120.82" width="17.15" height="3.09" fill="#6a6aba"/>
<rect x="344.45" y="123.31" width="17.15" height="3.09" fill="#a5a5da"/>
<rect x="344.45" y="125.80" width="17.15" height="3.09" fill="#c3c3e7"/>
<rect x="344.45" y="128.29" width="17.15" height="3.09" fill="#b5b5e1"/>
<rect x="344.45" y="130.78" width="17.15" height="3.09" fill="#a9a9dc"/>
<rect x="344.45" y="133.27" width="17.15" height="3.09" fill="#ceceeb"/>
<rect x="344.45" y="135.76" width="17.15" height="3.09" fill="#eeaeb0"/>
<rect x="344.45" y="138.25" width="17.15" height="3.09" fill="#f1e1e6"/>
<rect x="344.45" y="140.74" width="17.15" height="3.09" fill="#f2d1d5"/>
<rect x="344.45" y="143.23" width="17.15" height="3.09" fill="#f1c6c9"/>
<rect x="344.45" y="145.72" width="17.15" height="3.09" fill="#f1e4eb"/>
<rect x="344.45" y="148.20" width="17.15" height="3.09" fill="#dedef1"/>
<rect x="344.45" y="150.69" width="17.15" height="3.09" fill="#f1e0e6"/>
<rect x="344.45" y="153.18" width="17.15" height="3.09" fill="#eeafb0"/>
<rect x="344.45" y="155.67" width="17.15" height="3.09" fill="#f1c7c9"/>
<rect x="344.45" y="158.16" width="17.15" height="3.09" fill="#f2d1d5"/>
<rect x="344.45" y="160.65" width="17.15" height="3.09" fill="#d73d3d"/>
<rect x="344.45" y="163.14" width="17.15" height="3.09" fill="#d42d2d"/>
<rect x="344.45" y="165.63" width="17.15" height="3.09" fill="#d94444"/>
<rect x="344.45" y="168.12" width="17.15" height="3.09" fill="#e57c7c"/>
<rect x="344.45" y="170.61" width="17.15" height="3.09" fill="#df6565"/>
<rect x="344.45" y="173.10" width="17.15" height="3.09" fill="#dd5a5a"/>
<rect x="344.45" y="175.59" width="17.15" height="3.09" fill="#db4f4f"/>
<rect x="344.45" y="178.07" width="17.15" height="3.09" fill="#e27070"/>
<rect x="344.45" y="180.56" width="17.15" height="3.09" fill="#efb3b4"/>
<rect x="344.45" y="183.05" width="17.15" height="3.09" fill="#e47979"/>
<rect x="344.45" y="185.54" width="17.15" height="3.09" fill="#f0edf4"/>
<rect x="344.45" y="188.03" width="17.15" height="3.09" fill="#ebebf6"/>
<rect x="344.45" y="190.52" width="17.15" height="3.09" fill="#7878c3"/>
<rect x="344.45" y="193.01" width="17.15" height="3.09" fill="#9797d4"/>
<rect x="344.45" y="195.50" width="17.15" height="3.09" fill="#d7d7ee"/>
<rect x="344.45" y="197.99" width="17.15" height="3.09" fill="#a1a1d8"/>
<rect x="344.45" y="200.48" width="17.15" height="3.09" fill="#ececf6"/>
<rect x="344.45" y="202.97" width="17.15" height="3.09" fill="#f0edf5"/>
<rect x="344.45" y="205.46" width="17.15" height="3.09" fill="#f0bdbf"/>
<rect x="344.45" y="207.94" width="17.15" height="3.09" fill="#f1d7dc"/>
<rect x="344.45" y="210.43" width="17.15" height="3.09" fill="#eeb1b3"/>
<rect x="344.45" y="212.92" width="17.15" height="3.09" fill="#e57b7b"/>
<rect x="344.45" y="215.41" width="17.15" height="3.09" fill="#f0eef5"/>
<rect x="344.45" y="217.90" width="17.15" height="3.09" fill="#ededf7"/>
<rect x="344.45" y="220.39" width="17.15" height="3.09" fill="#e2e2f2"/>
<rect x="344.45" y="222.88" width="17.15" height="3.09" fill="#f1e6ed"/>
<rect x="344.45" y="225.37" width="17.15" height="3.09" fill="#d5d5ee"/>
<rect x="344.45" y="227.86" width="17.15" height="3.09" fill="#a2a2d9"/>
<rect x="344.45" y="230.35" width="17.15" height="3.09" fill="#5252aa"/>
<rect x="344.45" y="232.84" width="17.15" height="3.09" fill="#5858ae"/>
<rect x="344.45" y="235.33" width="17.15" height="3.09" fill="#6262b5"/>
<rect x="344.45" y="237.81" width="17.15" height="3.09" fill="#4646a4"/>
<rect x="344.45" y="240.30" width="17.15" height="3.09" fill="#6f6fbd"/>
<rect x="344.45" y="242.79" width="17.15" height="3.09" fill="#a0a0d8"/>
<rect x="344.45" y="245.28" width="17.15" height="3.09" fill="#bebee5"/>
<rect x="344.45" y="247.77" width="17.15" height="3.09" fill="#babae3"/>
<rect x="344.45" y="250.26" width="17.15" height="3.09" fill="#e3e3f3"/>
<rect x="344.45" y="252.75" width="17.15" height="3.09" fill="#f1e7ee"/>
<rect x="344.45" y="255.24" width="17.15" height="3.09" fill="#9f9fd8"/>
<rect x="344.45" y="257.73" width="17.15" height="3.09" fill="#7070be"/>
<rect x="344.45" y="260.22" width="17.15" height="3.09" fill="#8585cc"/>
<rect x="344.45" y="262.71" width="17.15" height="3.09" fill="#8989ce"/>
<rect x="344.45" y="265.19" width="17.15" height="3.09" fill="#9494d3"/>
<rect x="344.45" y="267.68" width="17.15" height="3.09" fill="#7b7bc5"/>
<rect x="344.45" y="270.17" width="17.15" height="3.09" fill="#7171be"/>
<rect x="344.45" y="272.66" width="17.15" height="3.09" fill="#9f9fd7"/>
<rect x="344.45" y="275.15" width="17.15" height="3.09" fill="#8888cd"/>
<rect x="344.45" y="277.64" width="17.15" height="3.09" fill="#8686cc"/>
<rect x="344.45" y="280.13" width="17.15" height="3.09" fill="#e4e4f3"/>
<rect x="344.45" y="282.62" width="17.15" height="3.09" fill="#f0e8ef"/>
<rect x="344.45" y="285.11" width="17.15" height="3.09" fill="#d3d3ed"/>
<rect x="344.45" y="287.60" width="17.15" height="3.09" fill="#a5a5da"/>
<rect x="344.45" y="290.09" width="17.15" height="3.09" fill="#8787cd"/>
<rect x="344.45" y="292.58" width="17.15" height="3.09" fill="#8787cd"/>
<rect x="344.45" y="295.06" width="17.15" height="3.09" fill="#f0c1c3"/>
<rect x="344.45" y="297.55" width="17.15" height="3.09" fill="#f2d5d9"/>
<rect x="344.45" y="300.04" width="17.15" height="3.09" fill="#a5a5da"/>
<rect x="344.45" y="302.53" width="17.15" height="3.09" fill="#d2d2ec"/>
<rect x="344.45" y="305.02" width="17.15" height="3.09" fill="#ddddf1"/>
<rect x="344.45" y="307.51" width="17.15" height="3.09" fill="#9a9ad5"/>
<rect x="361.00" y="11.30" width="17.15" height="3.09" fill="#e68181"/>
<rect x="361.00" y="13.79" width="17.15" height="3.09" fill="#eeabac"/>
<rect x="361.00" y="16.28" width="17.15" height="3.09" fill="#e67f7f"/>
<rect x="361.00" y="18.77" width="17.15" height="3.09" fill="#d84242"/>
<rect x="361.00" y="21.26" width="17.15" height="3.09" fill="#e98d8d"/>
<rect x="361.00" y="23.75" width="17.15" height="3.09" fill="#ec9f9f"/>
<rect x="361.00" y="26.23" width="17.15" height="3.09" fill="#f1dadf"/>
<rect x="361.00" y="28.72" width="17.15" height="3.09" fill="#efb9bb"/>
<rect x="361.00" y="31.21" width="17.15" height="3.09" fill="#f1dce1"/>
<rect x="361.00" y="33.70" width="17.15" height="3.09" fill="#d2d2ec"/>
<rect x="361.00" y="36.19" width="17.15" height="3.09" fill="#e8e8f5"/>
<rect x="361.00" y="38.68" width="17.15" height="3.09" fill="#f0ebf2"/>
<rect x="361.00" y="41.17" width="17.15" height="3.09" fill="#f0babb"/>
<rect x="361.00" y="43.66" width="17.15" height="3.09" fill="#f1d9de"/>
<rect x="361.00" y="46.15" width="17.15" height="3.09" fill="#d3d3ed"/>
<rect x="361.00" y="48.64" width="17.15" height="3.09" fill="#f1dce1"/>
<rect x="361.00" y="51.13" width="17.15" height="3.09" fill="#f0ebf3"/>
<rect x="361.00" y="53.62" width="17.15" height="3.09" fill="#e9e9f5"/>
<rect x="361.00" y="56.11" width="17.15" height="3.09" fill="#aaaadc"/>
<rect x="361.00" y="58.59" width="17.15" height="3.09" fill="#ceceeb"/>
<rect x="361.00" y="61.08" width="17.15" height="3.09" fill="#d9d9ef"/>
<rect x="361.00" y="63.57" width="17.15" height="3.09" fill="#9f9fd7"/>
<rect x="361.00" y="66.06" width="17.15" height="3.09" fill="#b6b6e1"/>
<rect x="361.00" y="68.55" width="17.15" height="3.09" fill="#c2c2e6"/>
<rect x="361.00" y="71.04" width="17.15" height="3.09" fill="#9898d5"/>
<rect x="361.00" y="73.53" width="17.15" height="3.09" fill="#7777c2"/>
<rect x="361.00" y="76.02" width="17.15" height="3.09" fill="#6c6cbb"/>
<rect x="361.00" y="78.51" width="17.15" height="3.09" fill="#a4a4d9"/>
<rect x="361.00" y="81.00" width="17.15" height="3.09" fill="#c2c2e6"/>
<rect x="361.00" y="83.49" width="17.15" height="3.09" fill="#b6b6e2"/>
<rect x="361.00" y="85.97" width="17.15" height="3.09" fill="#ababdd"/>
<rect x="361.00" y="88.46" width="17.15" height="3.09" fill="#cdcdea"/>
<rect x="361.00" y="90.95" width="17.15" height="3.09" fill="#a3a3d9"/>
<rect x="361.00" y="93.44" width="17.15" height="3.09" fill="#6d6dbc"/>
<rect x="361.00" y="95.93" width="17.15" height="3.09" fill="#b7b7e2"/>
<rect x="361.00" y="98.42" width="17.15" height="3.09" fill="#c1c1e6"/>
<rect x="361.00" y="100.91" width="17.15" height="3.09" fill="#f0bcbe"/>
<rect x="361.00" y="103.40" width="17.15" height="3.09" fill="#f1d8dc"/>
<rect x="361.00" y="105.89" width="17.15" height="3.09" fill="#a1a1d8"/>
<rect x="361.00" y="108.38" width="17.15" height="3.09" fill="#d7d7ee"/>
<rect x="361.00" y="110.87" width="17.15" height="3.09" fill="#c0c0e6"/>
<rect x="361.00" y="113.36" width="17.15" height="3.09" fill="#b8b8e2"/>
<rect x="361.00" y="115.84" width="17.15" height="3.09" fill="#7878c3"/>
<rect x="361.00" y="118.33" width="17.15" height="3.09" fill="#9797d4"/>
<rect x="361.00" y="120.82" width="17.15" height="3.09" fill="#eeb1b3"/>
<rect x="361.00" y="123.31" width="17.15" height="3.09" fill="#f1dfe4"/>
<rect x="361.00" y="125.80" width="17.15" height="3.09" fill="#b8b8e2"/>
<rect x="361.00" y="128.29" width="17.15" height="3.09" fill="#c0c0e5"/>
<rect x="361.00" y="130.78" width="17.15" height="3.09" fill="#9696d3"/>
<rect x="361.00" y="133.27" width="17.15" height="3.09" fill="#7979c4"/>
<rect x="361.00" y="135.76" width="17.15" height="3.09" fill="#a2a2d9"/>
<rect x="361.00" y="138.25" width="17.15" height="3.09" fill="#d5d5ee"/>
<rect x="361.00" y="140.74" width="17.15" height="3.09" fill="#f0eef6"/>
<rect x="361.00" y="143.23" width="17.15" height="3.09" fill="#ededf7"/>
<rect x="361.00" y="145.72" width="17.15" height="3.09" fill="#aeaede"/>
<rect x="361.00" y="148.20" width="17.15" height="3.09" fill="#cacae9"/>
<rect x="361.00" y="150.69" width="17.15" height="3.09" fill="#d5d5ee"/>
<rect x="361.00" y="153.18" width="17.15" height="3.09" fill="#a3a3d9"/>
<rect x="361.00" y="155.67" width="17.15" height="3.09" fill="#b9b9e3"/>
<rect x="361.00" y="158.16" width="17.15" height="3.09" fill="#bebee5"/>
<rect x="361.00" y="160.65" width="17.15" height="3.09" fill="#c9c9e9"/>
<rect x="361.00" y="163.14" width="17.15" height="3.09" fill="#aeaede"/>
<rect x="361.00" y="165.63" width="17.15" height="3.09" fill="#d8d8ef"/>
<rect x="361.00" y="168.12" width="17.15" height="3.09" fill="#f1e0e5"/>
<rect x="361.00" y="170.61" width="17.15" height="3.09" fill="#bebee5"/>
<rect x="361.00" y="173.10" width="17.15" height="3.09" fill="#babae3"/>
<rect x="361.00" y="175.59" width="17.15" height="3.09" fill="#7b7bc5"/>
<rect x="361.00" y="178.07" width="17.15" height="3.09" fill="#9494d3"/>
<rect x="361.00" y="180.56" width="17.15" height="3.09" fill="#9f9fd7"/>
<rect x="361.00" y="183.05" width="17.15" height="3.09" fill="#7070be"/>
<rect x="361.00" y="185.54" width="17.15" height="3.09" fill="#bbbbe3"/>
<rect x="361.00" y="188.03" width="17.15" height="3.09" fill="#bdbde4"/>
<rect x="361.00" y="190.52" width="17.15" height="3.09" fill="#f0c0c3"/>
<rect x="361.00" y="193.01" width="17.15" height="3.09" fill="#f2d5d9"/>
<rect x="361.00" y="195.50" width="17.15" height="3.09" fill="#d9d9ef"/>
<rect x="361.00" y="197.99" width="17.15" height="3.09" fill="#f1e1e6"/>
<rect x="361.00" y="200.48" width="17.15" height="3.09" fill="#f0f0f8"/>
<rect x="361.00" y="202.97" width="17.15" height="3.09" fill="#efeff8"/>
<rect x="361.00" y="205.46" width="17.15" height="3.09" fill="#f2d5d9"/>
<rect x="361.00" y="207.94" width="17.15" height="3.09" fill="#f0c1c3"/>
<rect x="361.00" y="210.43" width="17.15" height="3.09" fill="#f1e1e7"/>
<rect x="361.00" y="212.92" width="17.15" height="3.09" fill="#dadaef"/>
<rect x="361.00" y="215.41" width="17.15" height="3.09" fill="#f1e3ea"/>
<rect x="361.00" y="217.90" width="17.15" height="3.09" fill="#eeaaab"/>
<rect x="361.00" y="220.39" width="17.15" height="3.09" fill="#dc5555"/>
<rect x="361.00" y="222.88" width="17.15" height="3.09" fill="#e16a6a"/>
<rect x="361.00" y="225.37" width="17.15" height="3.09" fill="#7272bf"/>
<rect x="361.00" y="227.86" width="17.15" height="3.09" fill="#9d9dd7"/>
<rect x="361.00" y="230.35" width="17.15" height="3.09" fill="#7474c1"/>
<rect x="361.00" y="232.84" width="17.15" height="3.09" fill="#333398"/>
<rect x="361.00" y="235.33" width="17.15" height="3.09" fill="#7d7dc7"/>
<rect x="361.00" y="237.81" width="17.15" height="3.09" fill="#9191d2"/>
<rect x="361.00" y="240.30" width="17.15" height="3.09" fill="#9c9cd6"/>
<rect x="361.00" y="242.79" width="17.15" height="3.09" fill="#7373c0"/>
<rect x="361.00" y="245.28" width="17.15" height="3.09" fill="#9b9bd6"/>
<rect x="361.00" y="247.77" width="17.15" height="3.09" fill="#dcdcf0"/>
<rect x="361.00" y="250.26" width="17.15" height="3.09" fill="#9191d1"/>
<rect x="361.00" y="252.75" width="17.15" height="3.09" fill="#7e7ec7"/>
<rect x="361.00" y="255.24" width="17.15" height="3.09" fill="#3f3f9f"/>
<rect x="361.00" y="257.73" width="17.15" height="3.09" fill="#6969b9"/>
<rect x="361.00" y="260.22" width="17.15" height="3.09" fill="#a7a7db"/>
<rect x="361.00" y="262.71" width="17.15" height="3.09" fill="#6969b9"/>
<rect x="361.00" y="265.19" width="17.15" height="3.09" fill="#7e7ec7"/>
<rect x="361.00" y="267.68" width="17.15" height="3.09" fill="#9090d1"/>
<rect x="361.00" y="270.17" width="17.15" height="3.09" fill="#9b9bd6"/>
<rect x="361.00" y="272.66" width="17.15" height="3.09" fill="#7474c0"/>
<rect x="361.00" y="275.15" width="17.15" height="3.09" fill="#6969ba"/>
<rect x="361.00" y="277.64" width="17.15" height="3.09" fill="#a6a6db"/>
<rect x="361.00" y="280.13" width="17.15" height="3.09" fill="#8f8fd1"/>
<rect x="361.00" y="282.62" width="17.15" height="3.09" fill="#7f7fc8"/>
<rect x="361.00" y="285.11" width="17.15" height="3.09" fill="#4141a0"/>
<rect x="361.00" y="287.60" width="17.15" height="3.09" fill="#6767b8"/>
<rect x="361.00" y="290.09" width="17.15" height="3.09" fill="#dadaf0"/>
<rect x="361.00" y="292.58" width="17.15" height="3.09" fill="#9d9dd7"/>
<rect x="361.00" y="295.06" width="17.15" height="3.09" fill="#f2d2d6"/>
<rect x="361.00" y="297.55" width="17.15" height="3.09" fill="#f1c5c7"/>
<rect x="361.00" y="300.04" width="17.15" height="3.09" fill="#f1e4ea"/>
<rect x="361.00" y="302.53" width="17.15" height="3.09" fill="#ddddf1"/>
<rect x="361.00" y="305.02" width="17.15" height="3.09" fill="#d3d3ed"/>
<rect x="361.00" y="307.51" width="17.15" height="3.09" fill="#f1dce1"/>
<rect x="377.55" y="11.30" width="17.15" height="3.09" fill="#e0e0f2"/>
<rect x="377.55" y="13.79" width="17.15" height="3.09" fill="#f1e5ec"/>
<rect x="377.55" y="16.28" width="17.15" height="3.09" fill="#d7d7ee"/>
<rect x="377.55" y="18.77" width="17.15" height="3.09" fill="#a0a0d8"/>
<rect x="377.55" y="21.26" width="17.15" height="3.09" fill="#8383ca"/>
<rect x="377.55" y="23.75" width="17.15" height="3.09" fill="#8c8ccf"/>
<rect x="377.55" y="26.23" width="17.15" height="3.09" fill="#9797d4"/>
<rect x="377.55" y="28.72" width="17.15" height="3.09" fill="#7878c3"/>
<rect x="377.55" y="31.21" width="17.15" height="3.09" fill="#a1a1d8"/>
<rect x="377.55" y="33.70" width="17.15" height="3.09" fill="#d6d6ee"/>
<rect x="377.55" y="36.19" width="17.15" height="3.09" fill="#c0c0e6"/>
<rect x="377.55" y="38.68" width="17.15" height="3.09" fill="#b8b8e2"/>
<rect x="377.55" y="41.17" width="17.15" height="3.09" fill="#7979c4"/>
<rect x="377.55" y="43.66" width="17.15" height="3.09" fill="#9696d4"/>
<rect x="377.55" y="46.15" width="17.15" height="3.09" fill="#a1a1d8"/>
<rect x="377.55" y="48.64" width="17.15" height="3.09" fill="#6e6ebd"/>
<rect x="377.55" y="51.13" width="17.15" height="3.09" fill="#b9b9e3"/>
<rect x="377.55" y="53.62" width="17.15" height="3.09" fill="#bfbfe5"/>
<rect x="377.55" y="56.11" width="17.15" height="3.09" fill="#9595d3"/>
<rect x="377.55" y="58.59" width="17.15" height="3.09" fill="#7979c4"/>
<rect x="377.55" y="61.08" width="17.15" height="3.09" fill="#6f6fbd"/>
<rect x="377.55" y="63.57" width="17.15" height="3.09" fill="#a1a1d8"/>
<rect x="377.55" y="66.06" width="17.15" height="3.09" fill="#8a8ace"/>
<rect x="377.55" y="68.55" width="17.15" height="3.09" fill="#8484cb"/>
<rect x="377.55" y="71.04" width="17.15" height="3.09" fill="#7a7ac4"/>
<rect x="377.55" y="73.53" width="17.15" height="3.09" fill="#9595d3"/>
<rect x="377.55" y="76.02" width="17.15" height="3.09" fill="#d4d4ed"/>
<rect x="377.55" y="78.51" width="17.15" height="3.09" fill="#a3a3d9"/>
<rect x="377.55" y="81.00" width="17.15" height="3.09" fill="#f2ced2"/>
<rect x="377.55" y="83.49" width="17.15" height="3.09" fill="#f2cbce"/>
<rect x="377.55" y="85.97" width="17.15" height="3.09" fill="#c9c9e9"/>
<rect x="377.55" y="88.46" width="17.15" height="3.09" fill="#afafde"/>
<rect x="377.55" y="90.95" width="17.15" height="3.09" fill="#7070be"/>
<rect x="377.55" y="93.44" width="17.15" height="3.09" fill="#9f9fd8"/>
<rect x="377.55" y="95.93" width="17.15" height="3.09" fill="#bdbde5"/>
<rect x="377.55" y="98.42" width="17.15" height="3.09" fill="#bbbbe3"/>
<rect x="377.55" y="100.91" width="17.15" height="3.09" fill="#e16c6c"/>
<rect x="377.55" y="103.40" width="17.15" height="3.09" fill="#dc5353"/>
<rect x="377.55" y="105.89" width="17.15" height="3.09" fill="#d42d2d"/>
<rect x="377.55" y="108.38" width="17.15" height="3.09" fill="#d84343"/>
<rect x="377.55" y="110.87" width="17.15" height="3.09" fill="#de6060"/>
<rect x="377.55" y="113.36" width="17.15" height="3.09" fill="#de5e5e"/>
<rect x="377.55" y="115.84" width="17.15" height="3.09" fill="#dc5454"/>
<rect x="377.55" y="118.33" width="17.15" height="3.09" fill="#e16b6b"/>
<rect x="377.55" y="120.82" width="17.15" height="3.09" fill="#f1dce1"/>
<rect x="377.55" y="123.31" width="17.15" height="3.09" fill="#efb5b7"/>
<rect x="377.55" y="125.80" width="17.15" height="3.09" fill="#de5f5f"/>
<rect x="377.55" y="128.29" width="17.15" height="3.09" fill="#de5f5f"/>
<rect x="377.55" y="130.78" width="17.15" height="3.09" fill="#eca2a2"/>
<rect x="377.55" y="133.27" width="17.15" height="3.09" fill="#e88a8a"/>
<rect x="377.55" y="135.76" width="17.15" height="3.09" fill="#d2d2ec"/>
<rect x="377.55" y="138.25" width="17.15" height="3.09" fill="#a6a6da"/>
<rect x="377.55" y="140.74" width="17.15" height="3.09" fill="#cfcfeb"/>
<rect x="377.55" y="143.23" width="17.15" height="3.09" fill="#f1dadf"/>
<rect x="377.55" y="145.72" width="17.15" height="3.09" fill="#e88b8b"/>
<rect x="377.55" y="148.20" width="17.15" height="3.09" fill="#eca1a2"/>
<rect x="377.55" y="150.69" width="17.15" height="3.09" fill="#f1dbe0"/>
<rect x="377.55" y="153.18" width="17.15" height="3.09" fill="#efb6b8"/>
<rect x="377.55" y="155.67" width="17.15" height="3.09" fill="#dcdcf0"/>
<rect x="377.55" y="158.16" width="17.15" height="3.09" fill="#9b9bd6"/>
<rect x="377.55" y="160.65" width="17.15" height="3.09" fill="#b2b2e0"/>
<rect x="377.55" y="163.14" width="17.15" height="3.09" fill="#c6c6e8"/>
<rect x="377.55" y="165.63" width="17.15" height="3.09" fill="#9c9cd6"/>
<rect x="377.55" y="168.12" width="17.15" height="3.09" fill="#7373c0"/>
<rect x="377.55" y="170.61" width="17.15" height="3.09" fill="#9c9cd6"/>
<rect x="377.55" y="173.10" width="17.15" height="3.09" fill="#dcdcf0"/>
<rect x="377.55" y="175.59" width="17.15" height="3.09" fill="#c5c5e8"/>
<rect x="377.55" y="178.07" width="17.15" height="3.09" fill="#b3b3e0"/>
<rect x="377.55" y="180.56" width="17.15" height="3.09" fill="#7474c0"/>
<rect x="377.55" y="183.05" width="17.15" height="3.09" fill="#9b9bd6"/>
<rect x="377.55" y="185.54" width="17.15" height="3.09" fill="#a7a7db"/>
<rect x="377.55" y="188.03" width="17.15" height="3.09" fill="#6969b9"/>
<rect x="377.55" y="190.52" width="17.15" height="3.09" fill="#7f7fc8"/>
<rect x="377.55" y="193.01" width="17.15" height="3.09" fill="#9090d1"/>
<rect x="377.55" y="195.50" width="17.15" height="3.09" fill="#cfcfeb"/>
<rect x="377.55" y="197.99" width="17.15" height="3.09" fill="#a8a8db"/>
<rect x="377.55" y="200.48" width="17.15" height="3.09" fill="#d2d2ec"/>
<rect x="377.55" y="202.97" width="17.15" height="3.09" fill="#f1dce1"/>
<rect x="377.55" y="205.46" width="17.15" height="3.09" fill="#c4c4e7"/>
<rect x="377.55" y="207.94" width="17.15" height="3.09" fill="#b4b4e1"/>
<rect x="377.55" y="210.43" width="17.15" height="3.09" fill="#7575c1"/>
<rect x="377.55" y="212.92" width="17.15" height="3.09" fill="#9a9ad5"/>
<rect x="377.55" y="215.41" width="17.15" height="3.09" fill="#dadaef"/>
<rect x="377.55" y="217.90" width="17.15" height="3.09" fill="#9e9ed7"/>
<rect x="377.55" y="220.39" width="17.15" height="3.09" fill="#8080c8"/>
<rect x="377.55" y="222.88" width="17.15" height="3.09" fill="#8e8ed0"/>
<rect x="377.55" y="225.37" width="17.15" height="3.09" fill="#ceceeb"/>
<rect x="377.55" y="227.86" width="17.15" height="3.09" fill="#aaaadc"/>
<rect x="377.55" y="230.35" width="17.15" height="3.09" fill="#d3d3ed"/>
<rect x="377.55" y="232.84" width="17.15" height="3.09" fill="#f1dce2"/>
<rect x="377.55" y="235.33" width="17.15" height="3.09" fill="#c3c3e7"/>
<rect x="377.55" y="237.81" width="17.15" height="3.09" fill="#b5b5e1"/>
<rect x="377.55" y="240.30" width="17.15" height="3.09" fill="#7676c2"/>
<rect x="377.55" y="242.79" width="17.15" height="3.09" fill="#9999d5"/>
<rect x="377.55" y="245.28" width="17.15" height="3.09" fill="#d8d8ef"/>
<rect x="377.55" y="247.77" width="17.15" height="3.09" fill="#9f9fd7"/>
<rect x="377.55" y="250.26" width="17.15" height="3.09" fill="#f2d1d5"/>
<rect x="377.55" y="252.75" width="17.15" height="3.09" fill="#f1c7c9"/>
<rect x="377.55" y="255.24" width="17.15" height="3.09" fill="#f1e5eb"/>
<rect x="377.55" y="257.73" width="17.15" height="3.09" fill="#dfdff2"/>
<rect x="377.55" y="260.22" width="17.15" height="3.09" fill="#e57c7c"/>
<rect x="377.55" y="262.71" width="17.15" height="3.09" fill="#d94444"/>
<rect x="377.55" y="265.19" width="17.15" height="3.09" fill="#d42d2d"/>
<rect x="377.55" y="267.68" width="17.15" height="3.09" fill="#d53232"/>
<rect x="377.55" y="270.17" width="17.15" height="3.09" fill="#eda7a8"/>
<rect x="377.55" y="272.66" width="17.15" height="3.09" fill="#e78585"/>
<rect x="377.55" y="275.15" width="17.15" height="3.09" fill="#eeb0b2"/>
<rect x="377.55" y="277.64" width="17.15" height="3.09" fill="#f1dfe5"/>
<rect x="377.55" y="280.13" width="17.15" height="3.09" fill="#ebebf6"/>
<rect x="377.55" y="282.62" width="17.15" height="3.09" fill="#f0edf4"/>
<rect x="377.55" y="285.11" width="17.15" height="3.09" fill="#ccccea"/>
<rect x="377.55" y="287.60" width="17.15" height="3.09" fill="#acacdd"/>
<rect x="377.55" y="290.09" width="17.15" height="3.09" fill="#a1a1d8"/>
<rect x="377.55" y="292.58" width="17.15" height="3.09" fill="#d6d6ee"/>
<rect x="377.55" y="295.06" width="17.15" height="3.09" fill="#c0c0e6"/>
<rect x="377.55" y="297.55" width="17.15" height="3.09" fill="#b8b8e2"/>
<rect x="377.55" y="300.04" width="17.15" height="3.09" fill="#adaddd"/>
<rect x="377.55" y="302.53" width="17.15" height="3.09" fill="#cbcbea"/>
<rect x="377.55" y="305.02" width="17.15" height="3.09" fill="#d6d6ee"/>
<rect x="377.55" y="307.51" width="17.15" height="3.09" fill="#a2a2d9"/>
<rect x="394.10" y="11.30" width="17.15" height="3.09" fill="#9494d3"/>
<rect x="394.10" y="13.79" width="17.15" height="3.09" fill="#7b7bc5"/>
<rect x="394.10" y="16.28" width="17.15" height="3.09" fill="#a4a4da"/>
<rect x="394.10" y="18.77" width="17.15" height="3.09" fill="#d3d3ed"/>
<rect x="394.10" y="21.26" width="17.15" height="3.09" fill="#f2cccf"/>
<rect x="394.10" y="23.75" width="17.15" height="3.09" fill="#f2ced1"/>
<rect x="394.10" y="26.23" width="17.15" height="3.09" fill="#7c7cc5"/>
<rect x="394.10" y="28.72" width="17.15" height="3.09" fill="#9393d2"/>
<rect x="394.10" y="31.21" width="17.15" height="3.09" fill="#9e9ed7"/>
<rect x="394.10" y="33.70" width="17.15" height="3.09" fill="#7171bf"/>
<rect x="394.10" y="36.19" width="17.15" height="3.09" fill="#8787cd"/>
<rect x="394.10" y="38.68" width="17.15" height="3.09" fill="#8787cd"/>
<rect x="394.10" y="41.17" width="17.15" height="3.09" fill="#9292d2"/>
<rect x="394.10" y="43.66" width="17.15" height="3.09" fill="#7c7cc6"/>
<rect x="394.10" y="46.15" width="17.15" height="3.09" fill="#a5a5da"/>
<rect x="394.10" y="48.64" width="17.15" height="3.09" fill="#d2d2ed"/>
<rect x="394.10" y="51.13" width="17.15" height="3.09" fill="#ddddf1"/>
<rect x="394.10" y="53.62" width="17.15" height="3.09" fill="#9a9ad5"/>
<rect x="394.10" y="56.11" width="17.15" height="3.09" fill="#7d7dc6"/>
<rect x="394.10" y="58.59" width="17.15" height="3.09" fill="#9292d2"/>
<rect x="394.10" y="61.08" width="17.15" height="3.09" fill="#d2d2ec"/>
<rect x="394.10" y="63.57" width="17.15" height="3.09" fill="#a6a6da"/>
<rect x="394.10" y="66.06" width="17.15" height="3.09" fill="#6868b8"/>
<rect x="394.10" y="68.55" width="17.15" height="3.09" fill="#a8a8db"/>
<rect x="394.10" y="71.04" width="17.15" height="3.09" fill="#9191d1"/>
<rect x="394.10" y="73.53" width="17.15" height="3.09" fill="#7d7dc7"/>
<rect x="394.10" y="76.02" width="17.15" height="3.09" fill="#7373c0"/>
<rect x="394.10" y="78.51" width="17.15" height="3.09" fill="#9c9cd6"/>
<rect x="394.10" y="81.00" width="17.15" height="3.09" fill="#a7a7db"/>
<rect x="394.10" y="83.49" width="17.15" height="3.09" fill="#6868b9"/>
<rect x="394.10" y="85.97" width="17.15" height="3.09" fill="#7e7ec7"/>
<rect x="394.10" y="88.46" width="17.15" height="3.09" fill="#9191d1"/>
<rect x="394.10" y="90.95" width="17.15" height="3.09" fill="#d0d0ec"/>
<rect x="394.10" y="93.44" width="17.15" height="3.09" fill="#a7a7db"/>
<rect x="394.10" y="95.93" width="17.15" height="3.09" fill="#6969b9"/>
<rect x="394.10" y="98.42" width="17.15" height="3.09" fill="#a7a7db"/>
<rect x="394.10" y="100.91" width="17.15" height="3.09" fill="#9090d1"/>
<rect x="394.10" y="103.40" width="17.15" height="3.09" fill="#7f7fc7"/>
<rect x="394.10" y="105.89" width="17.15" height="3.09" fill="#7474c1"/>
<rect x="394.10" y="108.38" width="17.15" height="3.09" fill="#9b9bd6"/>
<rect x="394.10" y="110.87" width="17.15" height="3.09" fill="#a6a6da"/>
<rect x="394.10" y="113.36" width="17.15" height="3.09" fill="#6a6aba"/>
<rect x="394.10" y="115.84" width="17.15" height="3.09" fill="#7f7fc8"/>
<rect x="394.10" y="118.33" width="17.15" height="3.09" fill="#8f8fd1"/>
<rect x="394.10" y="120.82" width="17.15" height="3.09" fill="#9a9ad5"/>
<rect x="394.10" y="123.31" width="17.15" height="3.09" fill="#7575c1"/>
<rect x="394.10" y="125.80" width="17.15" height="3.09" fill="#9e9ed7"/>
<rect x="394.10" y="128.29" width="17.15" height="3.09" fill="#dadaef"/>
<rect x="394.10" y="130.78" width="17.15" height="3.09" fill="#c3c3e7"/>
<rect x="394.10" y="133.27" width="17.15" height="3.09" fill="#b4b4e1"/>
<rect x="394.10" y="135.76" width="17.15" height="3.09" fill="#a9a9dc"/>
<rect x="394.10" y="138.25" width="17.15" height="3.09" fill="#ceceeb"/>
<rect x="394.10" y="140.74" width="17.15" height="3.09" fill="#d9d9ef"/>
<rect x="394.10" y="143.23" width="17.15" height="3.09" fill="#9e9ed7"/>
<rect x="394.10" y="145.72" width="17.15" height="3.09" fill="#8080c9"/>
<rect x="394.10" y="148.20" width="17.15" height="3.09" fill="#8e8ed0"/>
<rect x="394.10" y="150.69" width="17.15" height="3.09" fill="#ceceeb"/>
<rect x="394.10" y="153.18" width="17.15" height="3.09" fill="#aaaadc"/>
<rect x="394.10" y="155.67" width="17.15" height="3.09" fill="#6b6bbb"/>
<rect x="394.10" y="158.16" width="17.15" height="3.09" fill="#a4a4da"/>
<rect x="394.10" y="160.65" width="17.15" height="3.09" fill="#c2c2e6"/>
<rect x="394.10" y="163.14" width="17.15" height="3.09" fill="#b6b6e1"/>
<rect x="394.10" y="165.63" width="17.15" height="3.09" fill="#ababdc"/>
<rect x="394.10" y="168.12" width="17.15" height="3.09" fill="#cdcdeb"/>
<rect x="394.10" y="170.61" width="17.15" height="3.09" fill="#a4a4d9"/>
<rect x="394.10" y="173.10" width="17.15" height="3.09" fill="#6c6cbb"/>
<rect x="394.10" y="175.59" width="17.15" height="3.09" fill="#eaeaf6"/>
<rect x="394.10" y="178.07" width="17.15" height="3.09" fill="#f0ecf4"/>
<rect x="394.10" y="180.56" width="17.15" height="3.09" fill="#ccccea"/>
<rect x="394.10" y="183.05" width="17.15" height="3.09" fill="#ababdd"/>
<rect x="394.10" y="185.54" width="17.15" height="3.09" fill="#6d6dbc"/>
<rect x="394.10" y="188.03" width="17.15" height="3.09" fill="#a3a3d9"/>
<rect x="394.10" y="190.52" width="17.15" height="3.09" fill="#c1c1e6"/>
<rect x="394.10" y="193.01" width="17.15" height="3.09" fill="#b7b7e2"/>
<rect x="394.10" y="195.50" width="17.15" height="3.09" fill="#7878c3"/>
<rect x="394.10" y="197.99" width="17.15" height="3.09" fill="#9797d4"/>
<rect x="394.10" y="200.48" width="17.15" height="3.09" fill="#6f6fbd"/>
<rect x="394.10" y="202.97" width="17.15" height="3.09" fill="#39399c"/>
<rect x="394.10" y="205.46" width="17.15" height="3.09" fill="#5050a9"/>
<rect x="394.10" y="207.94" width="17.15" height="3.09" fill="#5959af"/>
<rect x="394.10" y="210.43" width="17.15" height="3.09" fill="#6464b6"/>
<rect x="394.10" y="212.92" width="17.15" height="3.09" fill="#4545a3"/>
<rect x="394.10" y="215.41" width="17.15" height="3.09" fill="#6e6ebc"/>
<rect x="394.10" y="217.90" width="17.15" height="3.09" fill="#a2a2d9"/>
<rect x="394.10" y="220.39" width="17.15" height="3.09" fill="#f0eef5"/>
<rect x="394.10" y="222.88" width="17.15" height="3.09" fill="#ececf7"/>
<rect x="394.10" y="225.37" width="17.15" height="3.09" fill="#e1e1f2"/>
<rect x="394.10" y="227.86" width="17.15" height="3.09" fill="#f1e6ed"/>
<rect x="394.10" y="230.35" width="17.15" height="3.09" fill="#efb2b4"/>
<rect x="394.10" y="232.84" width="17.15" height="3.09" fill="#f1dee4"/>
<rect x="394.10" y="235.33" width="17.15" height="3.09" fill="#ededf7"/>
<rect x="394.10" y="237.81" width="17.15" height="3.09" fill="#f0eef6"/>
<rect x="394.10" y="240.30" width="17.15" height="3.09" fill="#db5252"/>
<rect x="394.10" y="242.79" width="17.15" height="3.09" fill="#e16e6e"/>
<rect x="394.10" y="245.28" width="17.15" height="3.09" fill="#eeb0b2"/>
<rect x="394.10" y="247.77" width="17.15" height="3.09" fill="#e57c7c"/>
<rect x="394.10" y="250.26" width="17.15" height="3.09" fill="#bebee5"/>
<rect x="394.10" y="252.75" width="17.15" height="3.09" fill="#babae3"/>
<rect x="394.10" y="255.24" width="17.15" height="3.09" fill="#aeaede"/>
<rect x="394.10" y="257.73" width="17.15" height="3.09" fill="#c9c9e9"/>
<rect x="394.10" y="260.22" width="17.15" height="3.09" fill="#d4d4ed"/>
<rect x="394.10" y="262.71" width="17.15" height="3.09" fill="#a3a3d9"/>
<rect x="394.10" y="265.19" width="17.15" height="3.09" fill="#babae3"/>
<rect x="394.10" y="267.68" width="17.15" height="3.09" fill="#bebee5"/>
<rect x="394.10" y="270.17" width="17.15" height="3.09" fill="#f0c0c2"/>
<rect x="394.10" y="272.66" width="17.15" height="3.09" fill="#f2d6da"/>
<rect x="394.10" y="275.15" width="17.15" height="3.09" fill="#f1dde2"/>
<rect x="394.10" y="277.64" width="17.15" height="3.09" fill="#efb4b6"/>
<rect x="394.10" y="280.13" width="17.15" height="3.09" fill="#f0eff7"/>
<rect x="394.10" y="282.62" width="17.15" height="3.09" fill="#efeff8"/>
<rect x="394.10" y="285.11" width="17.15" height="3.09" fill="#b0b0df"/>
<rect x="394.10" y="287.60" width="17.15" height="3.09" fill="#c8c8e9"/>
<rect x="394.10" y="290.09" width="17.15" height="3.09" fill="#d3d3ed"/>
<rect x="394.10" y="292.58" width="17.15" height="3.09" fill="#a5a5da"/>
<rect x="394.10" y="295.06" width="17.15" height="3.09" fill="#bbbbe4"/>
<rect x="394.10" y="297.55" width="17.15" height="3.09" fill="#bdbde4"/>
<rect x="394.10" y="300.04" width="17.15" height="3.09" fill="#9393d2"/>
<rect x="394.10" y="302.53" width="17.15" height="3.09" fill="#7c7cc6"/>
<rect x="394.10" y="305.02" width="17.15" height="3.09" fill="#a5a5da"/>
<rect x="394.10" y="307.51" width="17.15" height="3.09" fill="#d2d2ed"/>
<rect x="410.65" y="11.30" width="17.15" height="3.09" fill="#7e7ec7"/>
<rect x="410.65" y="13.79" width="17.15" height="3.09" fill="#9090d1"/>
<rect x="410.65" y="16.28" width="17.15" height="3.09" fill="#9b9bd6"/>
<rect x="410.65" y="18.77" width="17.15" height="3.09" fill="#7474c0"/>
<rect x="410.65" y="21.26" width="17.15" height="3.09" fill="#6969b9"/>
<rect x="410.65" y="23.75" width="17.15" height="3.09" fill="#a6a6db"/>
<rect x="410.65" y="26.23" width="17.15" height="3.09" fill="#9090d1"/>
<rect x="410.65" y="28.72" width="17.15" height="3.09" fill="#7f7fc8"/>
<rect x="410.65" y="31.21" width="17.15" height="3.09" fill="#eeaaab"/>
<rect x="410.65" y="33.70" width="17.15" height="3.09" fill="#e68282"/>
<rect x="410.65" y="36.19" width="17.15" height="3.09" fill="#dadaf0"/>
<rect x="410.65" y="38.68" width="17.15" height="3.09" fill="#9d9dd7"/>
<rect x="410.65" y="41.17" width="17.15" height="3.09" fill="#8080c8"/>
<rect x="410.65" y="43.66" width="17.15" height="3.09" fill="#8f8fd0"/>
<rect x="410.65" y="46.15" width="17.15" height="3.09" fill="#cfcfeb"/>
<rect x="410.65" y="48.64" width="17.15" height="3.09" fill="#a9a9dc"/>
<rect x="410.65" y="51.13" width="17.15" height="3.09" fill="#f1e1e7"/>
<rect x="410.65" y="53.62" width="17.15" height="3.09" fill="#eeaeaf"/>
<rect x="410.65" y="56.11" width="17.15" height="3.09" fill="#f1c6c8"/>
<rect x="410.65" y="58.59" width="17.15" height="3.09" fill="#f2d2d5"/>
<rect x="410.65" y="61.08" width="17.15" height="3.09" fill="#aaaadc"/>
<rect x="410.65" y="63.57" width="17.15" height="3.09" fill="#ceceeb"/>
<rect x="410.65" y="66.06" width="17.15" height="3.09" fill="#a4a4da"/>
<rect x="410.65" y="68.55" width="17.15" height="3.09" fill="#6b6bbb"/>
<rect x="410.65" y="71.04" width="17.15" height="3.09" fill="#eaeaf6"/>
<rect x="410.65" y="73.53" width="17.15" height="3.09" fill="#f0ecf3"/>
<rect x="410.65" y="76.02" width="17.15" height="3.09" fill="#cdcdeb"/>
<rect x="410.65" y="78.51" width="17.15" height="3.09" fill="#aaaadc"/>
<rect x="410.65" y="81.00" width="17.15" height="3.09" fill="#9f9fd8"/>
<rect x="410.65" y="83.49" width="17.15" height="3.09" fill="#d8d8ef"/>
<rect x="410.65" y="85.97" width="17.15" height="3.09" fill="#c2c2e6"/>
<rect x="410.65" y="88.46" width="17.15" height="3.09" fill="#b6b6e1"/>
<rect x="410.65" y="90.95" width="17.15" height="3.09" fill="#7777c2"/>
<rect x="410.65" y="93.44" width="17.15" height="3.09" fill="#9898d4"/>
<rect x="410.65" y="95.93" width="17.15" height="3.09" fill="#d8d8ef"/>
<rect x="410.65" y="98.42" width="17.15" height="3.09" fill="#a0a0d8"/>
<rect x="410.65" y="100.91" width="17.15" height="3.09" fill="#8282ca"/>
<rect x="410.65" y="103.40" width="17.15" height="3.09" fill="#8c8ccf"/>
<rect x="410.65" y="105.89" width="17.15" height="3.09" fill="#ccccea"/>
<rect x="410.65" y="108.38" width="17.15" height="3.09" fill="#acacdd"/>
<rect x="410.65" y="110.87" width="17.15" height="3.09" fill="#a1a1d8"/>
<rect x="410.65" y="113.36" width="17.15" height="3.09" fill="#d7d7ee"/>
<rect x="410.65" y="115.84" width="17.15" height="3.09" fill="#5959af"/>
<rect x="410.65" y="118.33" width="17.15" height="3.09" fill="#5050a9"/>
<rect x="410.65" y="120.82" width="17.15" height="3.09" fill="#7878c3"/>
<rect x="410.65" y="123.31" width="17.15" height="3.09" fill="#9797d4"/>
<rect x="410.65" y="125.80" width="17.15" height="3.09" fill="#6e6ebd"/>
<rect x="410.65" y="128.29" width="17.15" height="3.09" fill="#39399c"/>
<rect x="410.65" y="130.78" width="17.15" height="3.09" fill="#5151aa"/>
<rect x="410.65" y="133.27" width="17.15" height="3.09" fill="#5959ae"/>
<rect x="410.65" y="135.76" width="17.15" height="3.09" fill="#6363b5"/>
<rect x="410.65" y="138.25" width="17.15" height="3.09" fill="#4545a3"/>
<rect x="410.65" y="140.74" width="17.15" height="3.09" fill="#6e6ebd"/>
<rect x="410.65" y="143.23" width="17.15" height="3.09" fill="#a1a1d8"/>
<rect x="410.65" y="145.72" width="17.15" height="3.09" fill="#8a8ace"/>
<rect x="410.65" y="148.20" width="17.15" height="3.09" fill="#8484cb"/>
<rect x="410.65" y="150.69" width="17.15" height="3.09" fill="#7979c4"/>
<rect x="410.65" y="153.18" width="17.15" height="3.09" fill="#9595d3"/>
<rect x="410.65" y="155.67" width="17.15" height="3.09" fill="#a1a1d8"/>
<rect x="410.65" y="158.16" width="17.15" height="3.09" fill="#6f6fbd"/>
<rect x="410.65" y="160.65" width="17.15" height="3.09" fill="#b9b9e3"/>
<rect x="410.65" y="163.14" width="17.15" height="3.09" fill="#bfbfe5"/>
<rect x="410.65" y="165.63" width="17.15" height="3.09" fill="#9595d3"/>
<rect x="410.65" y="168.12" width="17.15" height="3.09" fill="#7a7ac4"/>
<rect x="410.65" y="170.61" width="17.15" height="3.09" fill="#7070bd"/>
<rect x="410.65" y="173.10" width="17.15" height="3.09" fill="#a0a0d8"/>
<rect x="410.65" y="175.59" width="17.15" height="3.09" fill="#8989ce"/>
<rect x="410.65" y="178.07" width="17.15" height="3.09" fill="#8585cc"/>
<rect x="410.65" y="180.56" width="17.15" height="3.09" fill="#afafde"/>
<rect x="410.65" y="183.05" width="17.15" height="3.09" fill="#c9c9e9"/>
<rect x="410.65" y="185.54" width="17.15" height="3.09" fill="#e57d7d"/>
<rect x="410.65" y="188.03" width="17.15" height="3.09" fill="#eeafb1"/>
<rect x="410.65" y="190.52" width="17.15" height="3.09" fill="#f2ced1"/>
<rect x="410.65" y="193.01" width="17.15" height="3.09" fill="#f2ccce"/>
<rect x="410.65" y="195.50" width="17.15" height="3.09" fill="#f0c0c2"/>
<rect x="410.65" y="197.99" width="17.15" height="3.09" fill="#f2d5d9"/>
<rect x="410.65" y="200.48" width="17.15" height="3.09" fill="#e47777"/>
<rect x="410.65" y="202.97" width="17.15" height="3.09" fill="#da4949"/>
<rect x="410.65" y="205.46" width="17.15" height="3.09" fill="#bdbde4"/>
<rect x="410.65" y="207.94" width="17.15" height="3.09" fill="#bbbbe4"/>
<rect x="410.65" y="210.43" width="17.15" height="3.09" fill="#b0b0df"/>
<rect x="410.65" y="212.92" width="17.15" height="3.09" fill="#c8c8e8"/>
<rect x="410.65" y="215.41" width="17.15" height="3.09" fill="#9e9ed7"/>
<rect x="410.65" y="217.90" width="17.15" height="3.09" fill="#7171bf"/>
<rect x="410.65" y="220.39" width="17.15" height="3.09" fill="#bcbce4"/>
<rect x="410.65" y="222.88" width="17.15" height="3.09" fill="#bcbce4"/>
<rect x="410.65" y="225.37" width="17.15" height="3.09" fill="#9292d2"/>
<rect x="410.65" y="227.86" width="17.15" height="3.09" fill="#7c7cc6"/>
<rect x="410.65" y="230.35" width="17.15" height="3.09" fill="#dadaf0"/>
<rect x="410.65" y="232.84" width="17.15" height="3.09" fill="#f1e1e7"/>
<rect x="410.65" y="235.33" width="17.15" height="3.09" fill="#ddddf1"/>
<rect x="410.65" y="237.81" width="17.15" height="3.09" fill="#9b9bd6"/>
<rect x="410.65" y="240.30" width="17.15" height="3.09" fill="#7d7dc6"/>
<rect x="410.65" y="242.79" width="17.15" height="3.09" fill="#9292d2"/>
<rect x="410.65" y="245.28" width="17.15" height="3.09" fill="#d1d1ec"/>
<rect x="410.65" y="247.77" width="17.15" height="3.09" fill="#a6a6db"/>
<rect x="410.65" y="250.26" width="17.15" height="3.09" fill="#9b9bd6"/>
<rect x="410.65" y="252.75" width="17.15" height="3.09" fill="#dcdcf0"/>
<rect x="410.65" y="255.24" width="17.15" height="3.09" fill="#f0e9f0"/>
<rect x="410.65" y="257.73" width="17.15" height="3.09" fill="#e6e6f4"/>
<rect x="410.65" y="260.22" width="17.15" height="3.09" fill="#a7a7db"/>
<rect x="410.65" y="262.71" width="17.15" height="3.09" fill="#d1d1ec"/>
<rect x="410.65" y="265.19" width="17.15" height="3.09" fill="#dcdcf0"/>
<rect x="410.65" y="267.68" width="17.15" height="3.09" fill="#9c9cd6"/>
<rect x="410.65" y="270.17" width="17.15" height="3.09" fill="#7e7ec7"/>
<rect x="410.65" y="272.66" width="17.15" height="3.09" fill="#9090d1"/>
<rect x="410.65" y="275.15" width="17.15" height="3.09" fill="#f1e3e9"/>
<rect x="410.65" y="277.64" width="17.15" height="3.09" fill="#dcdcf0"/>
<rect x="410.65" y="280.13" width="17.15" height="3.09" fill="#9d9dd6"/>
<rect x="410.65" y="282.62" width="17.15" height="3.09" fill="#dbdbf0"/>
<rect x="410.65" y="285.11" width="17.15" height="3.09" fill="#f0eaf1"/>
<rect x="410.65" y="287.60" width="17.15" height="3.09" fill="#e8e8f5"/>
<rect x="410.65" y="290.09" width="17.15" height="3.09" fill="#e37373"/>
<rect x="410.65" y="292.58" width="17.15" height="3.09" fill="#da4c4c"/>
<rect x="410.65" y="295.06" width="17.15" height="3.09" fill="#eeadae"/>
<rect x="410.65" y="297.55" width="17.15" height="3.09" fill="#f1e1e7"/>
<rect x="410.65" y="300.04" width="17.15" height="3.09" fill="#e8e8f5"/>
<rect x="410.65" y="302.53" width="17.15" height="3.09" fill="#f0ebf2"/>
<rect x="410.65" y="305.02" width="17.15" height="3.09" fill="#efb9bb"/>
<rect x="410.65" y="307.51" width="17.15" height="3.09" fill="#f1dade"/>
</g>
<rect x="429.50" y="11.10" width="4.40" height="1.05" fill="#d32c2c"/>
<rect x="429.50" y="12.10" width="4.40" height="1.05" fill="#d53535"/>
<rect x="429.50" y="13.09" width="4.40" height="1.05" fill="#d73e3e"/>
<rect x="429.50" y="14.09" width="4.40" height="1.05" fill="#d94747"/>
<rect x="429.50" y="15.09" width="4.40" height="1.05" fill="#db5050"/>
<rect x="429.50" y="16.08" width="4.40" height="1.05" fill="#dd5959"/>
<rect x="429.50" y="17.08" width="4.40" height="1.05" fill="#e06262"/>
<rect x="429.50" y="18.08" width="4.40" height="1.05" fill="#e26b6b"/>
<rect x="429.50" y="19.08" width="4.40" height="1.05" fill="#e47474"/>
<rect x="429.50" y="20.07" width="4.40" height="1.05" fill="#e67d7d"/>
<rect x="429.50" y="21.07" width="4.40" height="1.05" fill="#e88686"/>
<rect x="429.50" y="22.07" width="4.40" height="1.05" fill="#ea9394"/>
<rect x="429.50" y="23.06" width="4.40" height="1.05" fill="#eca0a1"/>
<rect x="429.50" y="24.06" width="4.40" height="1.05" fill="#eeadae"/>
<rect x="429.50" y="25.06" width="4.40" height="1.05" fill="#f0babc"/>
<rect x="429.50" y="26.05" width="4.40" height="1.05" fill="#f2c7c9"/>
<rect x="429.50" y="27.05" width="4.40" height="1.05" fill="#f4d4d7"/>
<rect x="429.50" y="28.05" width="4.40" height="1.05" fill="#f6e1e4"/>
<rect x="429.50" y="29.04" width="4.40" height="1.05" fill="#f8eef1"/>
<rect x="429.50" y="30.04" width="4.40" height="1.05" fill="#f6eff4"/>
<rect x="429.50" y="31.04" width="4.40" height="1.05" fill="#f4edf3"/>
<rect x="429.50" y="32.04" width="4.40" height="1.05" fill="#f1ebf3"/>
<rect x="429.50" y="33.03" width="4.40" height="1.05" fill="#efe9f2"/>
<rect x="429.50" y="34.03" width="4.40" height="1.05" fill="#ede7f2"/>
<rect x="429.50" y="35.03" width="4.40" height="1.05" fill="#eae5f1"/>
<rect x="429.50" y="36.02" width="4.40" height="1.05" fill="#e8e4f1"/>
<rect x="429.50" y="37.02" width="4.40" height="1.05" fill="#e5e2f1"/>
<rect x="429.50" y="38.02" width="4.40" height="1.05" fill="#e3e0f0"/>
<rect x="429.50" y="39.01" width="4.40" height="1.05" fill="#e1def0"/>
<rect x="429.50" y="40.01" width="4.40" height="1.05" fill="#dedcef"/>
<rect x="429.50" y="41.01" width="4.40" height="1.05" fill="#dcdbef"/>
<rect x="429.50" y="42.00" width="4.40" height="1.05" fill="#d9d9ee"/>
<rect x="429.50" y="43.00" width="4.40" height="1.05" fill="#d7d7ee"/>
<rect x="429.50" y="44.00" width="4.40" height="1.05" fill="#d1d1eb"/>
<rect x="429.50" y="45.00" width="4.40" height="1.05" fill="#cacae8"/>
<rect x="429.50" y="45.99" width="4.40" height="1.05" fill="#c4c4e6"/>
<rect x="429.50" y="46.99" width="4.40" height="1.05" fill="#bebee3"/>
<rect x="429.50" y="47.99" width="4.40" height="1.05" fill="#b7b7e0"/>
<rect x="429.50" y="48.98" width="4.40" height="1.05" fill="#b1b1dd"/>
<rect x="429.50" y="49.98" width="4.40" height="1.05" fill="#ababda"/>
<rect x="429.50" y="50.98" width="4.40" height="1.05" fill="#a4a4d7"/>
<rect x="429.50" y="51.97" width="4.40" height="1.05" fill="#9e9ed5"/>
<rect x="429.50" y="52.97" width="4.40" height="1.05" fill="#9898d2"/>
<rect x="429.50" y="53.97" width="4.40" height="1.05" fill="#9191cf"/>
<rect x="429.50" y="54.96" width="4.40" height="1.05" fill="#8b8bcc"/>
<rect x="429.50" y="55.96" width="4.40" height="1.05" fill="#8585c9"/>
<rect x="429.50" y="56.96" width="4.40" height="1.05" fill="#7e7ec6"/>
<rect x="429.50" y="57.96" width="4.40" height="1.05" fill="#7878c4"/>
<rect x="429.50" y="58.95" width="4.40" height="1.05" fill="#7272c1"/>
<rect x="429.50" y="59.95" width="4.40" height="1.05" fill="#6c6cbd"/>
<rect x="429.50" y="60.95" width="4.40" height="1.05" fill="#6666b9"/>
<rect x="429.50" y="61.94" width="4.40" height="1.05" fill="#6060b6"/>
<rect x="429.50" y="62.94" width="4.40" height="1.05" fill="#5b5bb2"/>
<rect x="429.50" y="63.94" width="4.40" height="1.05" fill="#5555ae"/>
<rect x="429.50" y="64.93" width="4.40" height="1.05" fill="#4f4faa"/>
<rect x="429.50" y="65.93" width="4.40" height="1.05" fill="#4a4aa6"/>
<rect x="429.50" y="66.93" width="4.40" height="1.05" fill="#4444a2"/>
<rect x="429.50" y="67.92" width="4.40" height="1.05" fill="#3e3e9f"/>
<rect x="429.50" y="68.92" width="4.40" height="1.05" fill="#39399b"/>
<rect x="429.50" y="69.92" width="4.40" height="1.05" fill="#333397"/>
<rect x="429.50" y="70.92" width="4.40" height="1.05" fill="#2d2d93"/>
<rect x="429.50" y="71.91" width="4.40" height="1.05" fill="#28288f"/>
<rect x="429.50" y="72.91" width="4.40" height="1.05" fill="#22228c"/>
<rect x="429.50" y="73.91" width="4.40" height="1.05" fill="#1c1c88"/>
<rect x="429.50" y="74.90" width="4.40" height="1.05" fill="#171784"/>
<text x="436.00" y="13.57" font-size="7.90" fill="#222" stroke="#222" stroke-width="0.22" >2</text>
<text x="435.81" y="29.39" font-size="7.90" fill="#222" stroke="#222" stroke-width="0.22" >1</text>
<text x="436.08" y="45.25" font-size="7.90" fill="#222" stroke="#222" stroke-width="0.22" >0</text>
<text x="436.00" y="61.11" font-size="7.90" fill="#222" stroke="#222" stroke-width="0.22" >−1</text>
<text x="436.00" y="77.00" font-size="7.90" fill="#222" stroke="#222" stroke-width="0.22" >−2</text>
<text x="312.38" y="21.16" font-size="11.20" fill="#000" stroke="#000" stroke-width="0.22" >C</text>
<text x="331.91" y="321.79" font-size="7.90" fill="#111" stroke="#111" stroke-width="0.22" >5</text>
<text x="350.41" y="321.87" font-size="7.90" fill="#111" stroke="#111" stroke-width="0.22" >2</text>
<text x="364.85" y="321.83" font-size="7.90" fill="#111" stroke="#111" stroke-width="0.22" >4</text>
<text x="382.17" y="321.83" font-size="7.90" fill="#111" stroke="#111" stroke-width="0.22" >6</text>
<text x="398.74" y="321.83" font-size="7.90" fill="#111" stroke="#111" stroke-width="0.22" >1</text>
<text x="415.51" y="321.83" font-size="7.90" fill="#111" stroke="#111" stroke-width="0.22" >3</text>
<line x1="326.6" y1="325.1" x2="373.2" y2="325.1" stroke="#222" stroke-width="0.8"/>
<line x1="375.9" y1="325.1" x2="420.5" y2="325.1" stroke="#222" stroke-width="0.8"/>
<text x="344.57" y="336.41" font-size="7.70" fill="#111" stroke="#111" stroke-width="0.22" >WT</text>
<text x="377.98" y="336.48" font-size="7.90" fill="#111" stroke="#111" stroke-width="0.22" >ZBED6 KO</text>
<rect x="30.4" y="348.5" width="175.1" height="174.2" fill="#fff"/>
<line x1="35.75" y1="348.5" x2="35.75" y2="522.7" stroke="#EBEBEB" stroke-width="0.8"/>
<line x1="64.40" y1="348.5" x2="64.40" y2="522.7" stroke="#EBEBEB" stroke-width="0.8"/>
<line x1="93.05" y1="348.5" x2="93.05" y2="522.7" stroke="#EBEBEB" stroke-width="0.8"/>
<line x1="121.70" y1="348.5" x2="121.70" y2="522.7" stroke="#EBEBEB" stroke-width="0.8"/>
<line x1="150.35" y1="348.5" x2="150.35" y2="522.7" stroke="#EBEBEB" stroke-width="0.8"/>
<line x1="170.3" y1="348.5" x2="170.3" y2="522.7" stroke="#EBEBEB" stroke-width="0.8"/>
<line x1="30.4" y1="366.50" x2="205.5" y2="366.50" stroke="#EBEBEB" stroke-width="0.8"/>
<line x1="30.4" y1="389.30" x2="205.5" y2="389.30" stroke="#EBEBEB" stroke-width="0.8"/>
<line x1="30.4" y1="411.50" x2="205.5" y2="411.50" stroke="#EBEBEB" stroke-width="0.8"/>
<line x1="30.4" y1="434.00" x2="205.5" y2="434.00" stroke="#EBEBEB" stroke-width="0.8"/>
<line x1="30.4" y1="456.50" x2="205.5" y2="456.50" stroke="#EBEBEB" stroke-width="0.8"/>
<line x1="30.4" y1="479.20" x2="205.5" y2="479.20" stroke="#EBEBEB" stroke-width="0.8"/>
<line x1="30.4" y1="501.80" x2="205.5" y2="501.80" stroke="#EBEBEB" stroke-width="0.8"/>
<line x1="81.59" y1="348.5" x2="81.59" y2="522.7" stroke="#111" stroke-width="0.9" stroke-dasharray="1.6,1.6"/>
<line x1="104.51" y1="348.5" x2="104.51" y2="522.7" stroke="#111" stroke-width="0.9" stroke-dasharray="1.6,1.6"/>
<line x1="30.4" y1="515.5" x2="205.5" y2="515.5" stroke="#111" stroke-width="0.9" stroke-dasharray="1.6,1.6"/>
<circle cx="47.00" cy="356.40" r="2.1" fill="#22c99b" fill-opacity="0.9"/>
<circle cx="52.40" cy="356.40" r="2.1" fill="#22c99b" fill-opacity="0.9"/>
<circle cx="54.34" cy="356.40" r="2.1" fill="#22c99b" fill-opacity="0.9"/>
<circle cx="56.27" cy="356.40" r="2.1" fill="#22c99b" fill-opacity="0.9"/>
<circle cx="58.21" cy="356.40" r="2.1" fill="#22c99b" fill-opacity="0.9"/>
<circle cx="60.14" cy="356.40" r="2.1" fill="#22c99b" fill-opacity="0.9"/>
<circle cx="62.08" cy="356.40" r="2.1" fill="#22c99b" fill-opacity="0.9"/>
<circle cx="64.01" cy="356.40" r="2.1" fill="#22c99b" fill-opacity="0.9"/>
<circle cx="65.95" cy="356.40" r="2.1" fill="#22c99b" fill-opacity="0.9"/>
<circle cx="67.89" cy="356.40" r="2.1" fill="#22c99b" fill-opacity="0.9"/>
<circle cx="69.82" cy="356.40" r="2.1" fill="#22c99b" fill-opacity="0.9"/>
<circle cx="71.76" cy="356.40" r="2.1" fill="#22c99b" fill-opacity="0.9"/>
<circle cx="73.69" cy="356.40" r="2.1" fill="#22c99b" fill-opacity="0.9"/>
<circle cx="75.63" cy="356.40" r="2.1" fill="#22c99b" fill-opacity="0.9"/>
<circle cx="77.56" cy="356.40" r="2.1" fill="#22c99b" fill-opacity="0.9"/>
<circle cx="79.50" cy="356.40" r="2.1" fill="#22c99b" fill-opacity="0.9"/>
<circle cx="70.90" cy="404.90" r="2.1" fill="#22c99b" fill-opacity="0.9"/>
<circle cx="74.90" cy="404.90" r="2.1" fill="#22c99b" fill-opacity="0.9"/>
<circle cx="81.50" cy="404.90" r="2.1" fill="#22c99b" fill-opacity="0.9"/>
<circle cx="44.50" cy="429.00" r="2.1" fill="#22c99b" fill-opacity="0.9"/>
<circle cx="56.50" cy="429.00" r="2.1" fill="#22c99b" fill-opacity="0.9"/>
<circle cx="71.90" cy="429.00" r="2.1" fill="#22c99b" fill-opacity="0.9"/>
<circle cx="74.50" cy="429.00" r="2.1" fill="#22c99b" fill-opacity="0.9"/>
<circle cx="76.80" cy="429.00" r="2.1" fill="#22c99b" fill-opacity="0.9"/>
<circle cx="78.90" cy="429.00" r="2.1" fill="#22c99b" fill-opacity="0.9"/>
<circle cx="38.00" cy="446.90" r="2.1" fill="#22c99b" fill-opacity="0.9"/>
<circle cx="69.90" cy="446.90" r="2.1" fill="#22c99b" fill-opacity="0.9"/>
<circle cx="72.90" cy="446.90" r="2.1" fill="#22c99b" fill-opacity="0.9"/>
<circle cx="77.30" cy="461.90" r="2.1" fill="#22c99b" fill-opacity="0.9"/>
<circle cx="67.90" cy="473.00" r="2.1" fill="#22c99b" fill-opacity="0.9"/>
<circle cx="74.10" cy="473.00" r="2.1" fill="#22c99b" fill-opacity="0.9"/>
<circle cx="77.30" cy="473.00" r="2.1" fill="#22c99b" fill-opacity="0.9"/>
<circle cx="51.40" cy="481.00" r="2.1" fill="#22c99b" fill-opacity="0.9"/>
<circle cx="75.90" cy="481.00" r="2.1" fill="#22c99b" fill-opacity="0.9"/>
<circle cx="78.90" cy="489.40" r="2.1" fill="#22c99b" fill-opacity="0.9"/>
<circle cx="81.50" cy="489.40" r="2.1" fill="#22c99b" fill-opacity="0.9"/>
<circle cx="68.50" cy="513.30" r="2.1" fill="#22c99b" fill-opacity="0.9"/>
<circle cx="78.30" cy="513.30" r="2.1" fill="#22c99b" fill-opacity="0.9"/>
<circle cx="104.20" cy="356.40" r="2.1" fill="#2aa9ef" fill-opacity="0.9"/>
<circle cx="106.19" cy="356.40" r="2.1" fill="#2aa9ef" fill-opacity="0.9"/>
<circle cx="108.18" cy="356.40" r="2.1" fill="#2aa9ef" fill-opacity="0.9"/>
<circle cx="110.17" cy="356.40" r="2.1" fill="#2aa9ef" fill-opacity="0.9"/>
<circle cx="112.16" cy="356.40" r="2.1" fill="#2aa9ef" fill-opacity="0.9"/>
<circle cx="114.14" cy="356.40" r="2.1" fill="#2aa9ef" fill-opacity="0.9"/>
<circle cx="116.13" cy="356.40" r="2.1" fill="#2aa9ef" fill-opacity="0.9"/>
<circle cx="118.12" cy="356.40" r="2.1" fill="#2aa9ef" fill-opacity="0.9"/>
<circle cx="120.11" cy="356.40" r="2.1" fill="#2aa9ef" fill-opacity="0.9"/>
<circle cx="122.10" cy="356.40" r="2.1" fill="#2aa9ef" fill-opacity="0.9"/>
<circle cx="128.20" cy="356.40" r="2.1" fill="#2aa9ef" fill-opacity="0.9"/>
<circle cx="130.60" cy="356.40" r="2.1" fill="#2aa9ef" fill-opacity="0.9"/>
<circle cx="137.00" cy="356.40" r="2.1" fill="#2aa9ef" fill-opacity="0.9"/>
<circle cx="140.20" cy="356.40" r="2.1" fill="#2aa9ef" fill-opacity="0.9"/>
<circle cx="143.40" cy="356.40" r="2.1" fill="#2aa9ef" fill-opacity="0.9"/>
<circle cx="148.40" cy="356.40" r="2.1" fill="#2aa9ef" fill-opacity="0.9"/>
<circle cx="160.50" cy="356.40" r="2.1" fill="#2aa9ef" fill-opacity="0.9"/>
<circle cx="175.80" cy="356.40" r="2.1" fill="#2aa9ef" fill-opacity="0.9"/>
<circle cx="197.70" cy="356.40" r="2.1" fill="#2aa9ef" fill-opacity="0.9"/>
<circle cx="107.30" cy="404.90" r="2.1" fill="#2aa9ef" fill-opacity="0.9"/>
<circle cx="113.90" cy="404.90" r="2.1" fill="#2aa9ef" fill-opacity="0.9"/>
<circle cx="111.20" cy="428.80" r="2.1" fill="#2aa9ef" fill-opacity="0.9"/>
<circle cx="113.40" cy="428.80" r="2.1" fill="#2aa9ef" fill-opacity="0.9"/>
<circle cx="117.60" cy="428.80" r="2.1" fill="#2aa9ef" fill-opacity="0.9"/>
<circle cx="105.50" cy="447.00" r="2.1" fill="#2aa9ef" fill-opacity="0.9"/>
<circle cx="107.60" cy="447.00" r="2.1" fill="#2aa9ef" fill-opacity="0.9"/>
<circle cx="109.80" cy="447.00" r="2.1" fill="#2aa9ef" fill-opacity="0.9"/>
<circle cx="104.60" cy="462.10" r="2.1" fill="#2aa9ef" fill-opacity="0.9"/>
<circle cx="107.40" cy="462.10" r="2.1" fill="#2aa9ef" fill-opacity="0.9"/>
<circle cx="118.30" cy="462.10" r="2.1" fill="#2aa9ef" fill-opacity="0.9"/>
<circle cx="104.00" cy="472.70" r="2.1" fill="#2aa9ef" fill-opacity="0.9"/>
<circle cx="108.10" cy="472.70" r="2.1" fill="#2aa9ef" fill-opacity="0.9"/>
<circle cx="106.80" cy="481.00" r="2.1" fill="#2aa9ef" fill-opacity="0.9"/>
<circle cx="109.50" cy="481.00" r="2.1" fill="#2aa9ef" fill-opacity="0.9"/>
<circle cx="113.90" cy="481.00" r="2.1" fill="#2aa9ef" fill-opacity="0.9"/>
<circle cx="132.50" cy="481.00" r="2.1" fill="#2aa9ef" fill-opacity="0.9"/>
<circle cx="107.80" cy="489.40" r="2.1" fill="#2aa9ef" fill-opacity="0.9"/>
<circle cx="120.40" cy="497.40" r="2.1" fill="#2aa9ef" fill-opacity="0.9"/>
<circle cx="113.90" cy="502.90" r="2.1" fill="#2aa9ef" fill-opacity="0.9"/>
<circle cx="125.20" cy="502.90" r="2.1" fill="#2aa9ef" fill-opacity="0.9"/>
<circle cx="123.80" cy="513.40" r="2.1" fill="#2aa9ef" fill-opacity="0.9"/>
<circle cx="127.70" cy="513.40" r="2.1" fill="#2aa9ef" fill-opacity="0.9"/>
<rect x="30.4" y="348.5" width="175.1" height="174.2" fill="none" stroke="#8a8a8a" stroke-width="1.15"/>
<circle cx="158.5" cy="429.5" r="2.1" fill="#2aa9ef"/>
<circle cx="158.5" cy="442.7" r="2.1" fill="#22c99b"/>
<text x="164.90" y="430.66" font-size="8.00" fill="#111" stroke="#111" stroke-width="0.22" >Up (78)</text>
<text x="164.86" y="444.46" font-size="8.00" fill="#111" stroke="#111" stroke-width="0.22" >Down (64)</text>
<line x1="35.75" y1="522.7" x2="35.75" y2="524.7" stroke="#333" stroke-width="0.6"/>
<text x="30.46" y="532.89" font-size="7.90" fill="#222" stroke="#222" stroke-width="0.22" >-5</text>
<line x1="93.05" y1="522.7" x2="93.05" y2="524.7" stroke="#333" stroke-width="0.6"/>
<text x="91.94" y="532.93" font-size="7.90" fill="#222" stroke="#222" stroke-width="0.22" >0</text>
<line x1="150.35" y1="522.7" x2="150.35" y2="524.7" stroke="#333" stroke-width="0.6"/>
<text x="149.31" y="532.89" font-size="7.90" fill="#222" stroke="#222" stroke-width="0.22" >5</text>
<line x1="28.4" y1="389.3" x2="30.4" y2="389.3" stroke="#333" stroke-width="0.6"/>
<text x="23.01" y="391.26" font-size="7.90" fill="#222" stroke="#222" stroke-width="0.22" >2</text>
<line x1="28.4" y1="479.1" x2="30.4" y2="479.1" stroke="#333" stroke-width="0.6"/>
<text x="16.34" y="482.64" font-size="7.90" fill="#222" stroke="#222" stroke-width="0.22" >1.5</text>
<text x="71.25" y="544.83" font-size="7.90" fill="#111" stroke="#111" stroke-width="0.22" >log2(fold-change)</text>
<text x="0" y="0" font-size="7.85" fill="#111" stroke="#111" stroke-width="0.22" transform="translate(12.92,478.55) rotate(-90)">-log10(adjusted p-values)</text>
<text x="4.46" y="356.27" font-size="11.50" fill="#000" stroke="#000" stroke-width="0.22" >D</text>
<rect x="231" y="346.5" width="194" height="174.5" fill="#fff"/>
<line x1="249.75" y1="346.5" x2="249.75" y2="521" stroke="#EBEBEB" stroke-width="0.8"/>
<line x1="284.00" y1="346.5" x2="284.00" y2="521" stroke="#EBEBEB" stroke-width="0.8"/>
<line x1="318.25" y1="346.5" x2="318.25" y2="521" stroke="#EBEBEB" stroke-width="0.8"/>
<line x1="352.50" y1="346.5" x2="352.50" y2="521" stroke="#EBEBEB" stroke-width="0.8"/>
<line x1="386.75" y1="346.5" x2="386.75" y2="521" stroke="#EBEBEB" stroke-width="0.8"/>
<line x1="421.00" y1="346.5" x2="421.00" y2="521" stroke="#EBEBEB" stroke-width="0.8"/>
<line x1="231" y1="499.85" x2="425" y2="499.85" stroke="#EBEBEB" stroke-width="0.8"/>
<line x1="231" y1="465.20" x2="425" y2="465.20" stroke="#EBEBEB" stroke-width="0.8"/>
<line x1="231" y1="430.55" x2="425" y2="430.55" stroke="#EBEBEB" stroke-width="0.8"/>
<line x1="231" y1="395.90" x2="425" y2="395.90" stroke="#EBEBEB" stroke-width="0.8"/>
<line x1="231" y1="361.25" x2="425" y2="361.25" stroke="#EBEBEB" stroke-width="0.8"/>
<line x1="277.15" y1="346.5" x2="277.15" y2="521" stroke="#888" stroke-width="0.9" stroke-dasharray="1.3,1.3"/>
<line x1="290.85" y1="346.5" x2="290.85" y2="521" stroke="#888" stroke-width="0.9" stroke-dasharray="1.3,1.3"/>
<circle cx="239.50" cy="354.50" r="2.0" fill="#22c99b" fill-opacity="0.9"/>
<circle cx="267.30" cy="354.50" r="2.0" fill="#22c99b" fill-opacity="0.9"/>
<circle cx="271.90" cy="354.50" r="2.0" fill="#22c99b" fill-opacity="0.9"/>
<circle cx="257.70" cy="422.60" r="2.0" fill="#22c99b" fill-opacity="0.9"/>
<circle cx="257.10" cy="424.80" r="2.0" fill="#22c99b" fill-opacity="0.9"/>
<circle cx="275.50" cy="426.60" r="2.0" fill="#22c99b" fill-opacity="0.9"/>
<circle cx="250.40" cy="436.10" r="2.0" fill="#22c99b" fill-opacity="0.9"/>
<circle cx="265.50" cy="447.00" r="2.0" fill="#22c99b" fill-opacity="0.9"/>
<circle cx="276.10" cy="447.60" r="2.0" fill="#22c99b" fill-opacity="0.9"/>
<circle cx="275.50" cy="453.20" r="2.0" fill="#22c99b" fill-opacity="0.9"/>
<circle cx="273.90" cy="455.00" r="2.0" fill="#22c99b" fill-opacity="0.9"/>
<circle cx="275.80" cy="452.70" r="2.0" fill="#22c99b" fill-opacity="0.9"/>
<circle cx="273.70" cy="455.00" r="2.0" fill="#22c99b" fill-opacity="0.9"/>
<circle cx="276.70" cy="468.60" r="2.0" fill="#22c99b" fill-opacity="0.9"/>
<circle cx="275.40" cy="472.70" r="2.0" fill="#22c99b" fill-opacity="0.9"/>
<circle cx="263.40" cy="477.00" r="2.0" fill="#22c99b" fill-opacity="0.9"/>
<circle cx="262.00" cy="481.90" r="2.0" fill="#22c99b" fill-opacity="0.9"/>
<circle cx="253.60" cy="484.60" r="2.0" fill="#22c99b" fill-opacity="0.9"/>
<circle cx="274.00" cy="486.30" r="2.0" fill="#22c99b" fill-opacity="0.9"/>
<circle cx="275.80" cy="486.30" r="2.0" fill="#22c99b" fill-opacity="0.9"/>
<circle cx="262.00" cy="490.80" r="2.0" fill="#22c99b" fill-opacity="0.9"/>
<circle cx="257.70" cy="492.90" r="2.0" fill="#22c99b" fill-opacity="0.9"/>
<circle cx="266.00" cy="492.60" r="2.0" fill="#22c99b" fill-opacity="0.9"/>
<circle cx="266.60" cy="495.20" r="2.0" fill="#22c99b" fill-opacity="0.9"/>
<circle cx="274.40" cy="492.60" r="2.0" fill="#22c99b" fill-opacity="0.9"/>
<circle cx="275.40" cy="494.00" r="2.0" fill="#22c99b" fill-opacity="0.9"/>
<circle cx="273.10" cy="495.70" r="2.0" fill="#22c99b" fill-opacity="0.9"/>
<circle cx="276.70" cy="499.30" r="2.0" fill="#22c99b" fill-opacity="0.9"/>
<circle cx="258.90" cy="501.40" r="2.0" fill="#22c99b" fill-opacity="0.9"/>
<circle cx="254.50" cy="502.80" r="2.0" fill="#22c99b" fill-opacity="0.9"/>
<circle cx="263.00" cy="504.10" r="2.0" fill="#22c99b" fill-opacity="0.9"/>
<circle cx="271.30" cy="503.50" r="2.0" fill="#22c99b" fill-opacity="0.9"/>
<circle cx="259.80" cy="506.70" r="2.0" fill="#22c99b" fill-opacity="0.9"/>
<circle cx="273.10" cy="508.50" r="2.0" fill="#22c99b" fill-opacity="0.9"/>
<circle cx="268.70" cy="511.70" r="2.0" fill="#22c99b" fill-opacity="0.9"/>
<circle cx="270.50" cy="511.20" r="2.0" fill="#22c99b" fill-opacity="0.9"/>
<circle cx="274.40" cy="511.20" r="2.0" fill="#22c99b" fill-opacity="0.9"/>
<circle cx="276.70" cy="512.10" r="2.0" fill="#22c99b" fill-opacity="0.9"/>
<circle cx="293.60" cy="354.40" r="2.0" fill="#2aa9ef" fill-opacity="0.9"/>
<circle cx="300.70" cy="354.40" r="2.0" fill="#2aa9ef" fill-opacity="0.9"/>
<circle cx="302.50" cy="354.40" r="2.0" fill="#2aa9ef" fill-opacity="0.9"/>
<circle cx="338.20" cy="354.40" r="2.0" fill="#2aa9ef" fill-opacity="0.9"/>
<circle cx="348.90" cy="354.40" r="2.0" fill="#2aa9ef" fill-opacity="0.9"/>
<circle cx="416.80" cy="354.40" r="2.0" fill="#2aa9ef" fill-opacity="0.9"/>
<circle cx="298.90" cy="385.00" r="2.0" fill="#2aa9ef" fill-opacity="0.9"/>
<circle cx="317.90" cy="385.00" r="2.0" fill="#2aa9ef" fill-opacity="0.9"/>
<circle cx="293.20" cy="398.90" r="2.0" fill="#2aa9ef" fill-opacity="0.9"/>
<circle cx="309.40" cy="433.20" r="2.0" fill="#2aa9ef" fill-opacity="0.9"/>
<circle cx="292.50" cy="439.90" r="2.0" fill="#2aa9ef" fill-opacity="0.9"/>
<circle cx="295.40" cy="439.90" r="2.0" fill="#2aa9ef" fill-opacity="0.9"/>
<circle cx="291.60" cy="443.20" r="2.0" fill="#2aa9ef" fill-opacity="0.9"/>
<circle cx="292.50" cy="445.00" r="2.0" fill="#2aa9ef" fill-opacity="0.9"/>
<circle cx="301.40" cy="445.00" r="2.0" fill="#2aa9ef" fill-opacity="0.9"/>
<circle cx="297.60" cy="449.90" r="2.0" fill="#2aa9ef" fill-opacity="0.9"/>
<circle cx="293.20" cy="453.20" r="2.0" fill="#2aa9ef" fill-opacity="0.9"/>
<circle cx="297.60" cy="455.00" r="2.0" fill="#2aa9ef" fill-opacity="0.9"/>
<circle cx="292.60" cy="453.20" r="2.0" fill="#2aa9ef" fill-opacity="0.9"/>
<circle cx="293.50" cy="453.20" r="2.0" fill="#2aa9ef" fill-opacity="0.9"/>
<circle cx="297.40" cy="450.90" r="2.0" fill="#2aa9ef" fill-opacity="0.9"/>
<circle cx="297.40" cy="455.30" r="2.0" fill="#2aa9ef" fill-opacity="0.9"/>
<circle cx="293.50" cy="461.50" r="2.0" fill="#2aa9ef" fill-opacity="0.9"/>
<circle cx="296.20" cy="463.80" r="2.0" fill="#2aa9ef" fill-opacity="0.9"/>
<circle cx="300.20" cy="464.50" r="2.0" fill="#2aa9ef" fill-opacity="0.9"/>
<circle cx="303.80" cy="463.50" r="2.0" fill="#2aa9ef" fill-opacity="0.9"/>
<circle cx="291.70" cy="469.90" r="2.0" fill="#2aa9ef" fill-opacity="0.9"/>
<circle cx="295.60" cy="478.40" r="2.0" fill="#2aa9ef" fill-opacity="0.9"/>
<circle cx="293.90" cy="482.30" r="2.0" fill="#2aa9ef" fill-opacity="0.9"/>
<circle cx="290.90" cy="485.50" r="2.0" fill="#2aa9ef" fill-opacity="0.9"/>
<circle cx="295.30" cy="487.60" r="2.0" fill="#2aa9ef" fill-opacity="0.9"/>
<circle cx="296.20" cy="488.70" r="2.0" fill="#2aa9ef" fill-opacity="0.9"/>
<circle cx="293.20" cy="497.90" r="2.0" fill="#2aa9ef" fill-opacity="0.9"/>
<circle cx="294.40" cy="498.80" r="2.0" fill="#2aa9ef" fill-opacity="0.9"/>
<circle cx="305.00" cy="499.30" r="2.0" fill="#2aa9ef" fill-opacity="0.9"/>
<circle cx="302.40" cy="501.10" r="2.0" fill="#2aa9ef" fill-opacity="0.9"/>
<circle cx="299.70" cy="502.30" r="2.0" fill="#2aa9ef" fill-opacity="0.9"/>
<circle cx="297.00" cy="502.80" r="2.0" fill="#2aa9ef" fill-opacity="0.9"/>
<circle cx="294.40" cy="503.50" r="2.0" fill="#2aa9ef" fill-opacity="0.9"/>
<circle cx="296.20" cy="507.60" r="2.0" fill="#2aa9ef" fill-opacity="0.9"/>
<circle cx="292.60" cy="510.30" r="2.0" fill="#2aa9ef" fill-opacity="0.9"/>
<circle cx="295.60" cy="512.10" r="2.0" fill="#2aa9ef" fill-opacity="0.9"/>
<circle cx="327.40" cy="505.60" r="2.0" fill="#2aa9ef" fill-opacity="0.9"/>
<rect x="231" y="346.5" width="194" height="174.5" fill="none" stroke="#8a8a8a" stroke-width="1.15"/>
<circle cx="369.1" cy="427.1" r="1.9" fill="#2aa9ef"/>
<circle cx="369.1" cy="440.3" r="1.9" fill="#22c99b"/>
<text x="375.00" y="429.71" font-size="8.00" fill="#111" stroke="#111" stroke-width="0.22" >Up (42)</text>
<text x="374.96" y="442.36" font-size="8.00" fill="#111" stroke="#111" stroke-width="0.22" >Down (40)</text>
<line x1="284.00" y1="521" x2="284.00" y2="523" stroke="#333" stroke-width="0.6"/>
<text x="283.24" y="532.93" font-size="7.90" fill="#222" stroke="#222" stroke-width="0.22" >0</text>
<line x1="352.50" y1="521" x2="352.50" y2="523" stroke="#333" stroke-width="0.6"/>
<text x="349.56" y="532.93" font-size="7.90" fill="#222" stroke="#222" stroke-width="0.22" >10</text>
<line x1="421.00" y1="521" x2="421.00" y2="523" stroke="#333" stroke-width="0.6"/>
<text x="415.41" y="532.93" font-size="7.90" fill="#222" stroke="#222" stroke-width="0.22" >20</text>
<line x1="229" y1="465.20" x2="231" y2="465.20" stroke="#333" stroke-width="0.6"/>
<text x="222.91" y="467.66" font-size="7.90" fill="#222" stroke="#222" stroke-width="0.22" >2</text>
<line x1="229" y1="395.90" x2="231" y2="395.90" stroke="#333" stroke-width="0.6"/>
<text x="222.83" y="398.33" font-size="7.90" fill="#222" stroke="#222" stroke-width="0.22" >3</text>
<text x="256.05" y="540.53" font-size="7.90" fill="#111" stroke="#111" stroke-width="0.22" >log2(fold-change)</text>
<text x="211.10" y="356.27" font-size="11.50" fill="#000" stroke="#000" stroke-width="0.22" >E</text>
</svg></div></body></html>
